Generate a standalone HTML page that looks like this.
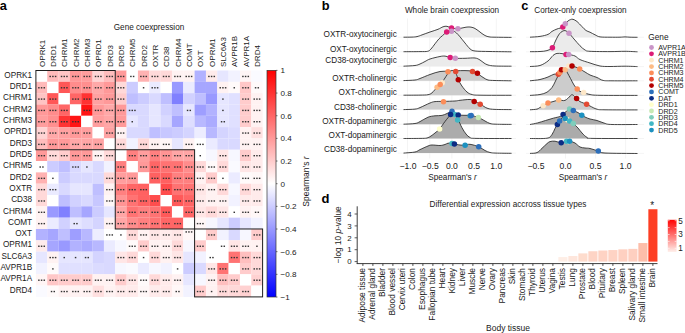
<!DOCTYPE html>
<html><head><meta charset="utf-8"><style>
html,body{margin:0;padding:0;background:#fff;width:685px;height:333px;overflow:hidden}
svg{display:block}
text{font-family:"Liberation Sans", sans-serif}
</style></head><body>
<svg width="685" height="333" viewBox="0 0 685 333">
<rect x="0" y="0" width="685" height="333" fill="#fff"/>
<text x="-0.2" y="9.8" font-size="12.8" font-weight="bold" fill="#000">a</text>
<text x="149" y="29.5" font-size="8.2" text-anchor="middle" fill="#1a1a1a">Gene coexpression</text>
<text x="44.67" y="66.9" font-size="8" fill="#1a1a1a" transform="rotate(-90 44.67 66.9)">OPRK1</text>
<text x="56" y="66.9" font-size="8" fill="#1a1a1a" transform="rotate(-90 56 66.9)">DRD1</text>
<text x="67.34" y="66.9" font-size="8" fill="#1a1a1a" transform="rotate(-90 67.34 66.9)">CHRM1</text>
<text x="78.67" y="66.9" font-size="8" fill="#1a1a1a" transform="rotate(-90 78.67 66.9)">CHRM2</text>
<text x="90.01" y="66.9" font-size="8" fill="#1a1a1a" transform="rotate(-90 90.01 66.9)">CHRM3</text>
<text x="101.34" y="66.9" font-size="8" fill="#1a1a1a" transform="rotate(-90 101.34 66.9)">OPRD1</text>
<text x="112.68" y="66.9" font-size="8" fill="#1a1a1a" transform="rotate(-90 112.68 66.9)">DRD3</text>
<text x="124.01" y="66.9" font-size="8" fill="#1a1a1a" transform="rotate(-90 124.01 66.9)">DRD5</text>
<text x="135.35" y="66.9" font-size="8" fill="#1a1a1a" transform="rotate(-90 135.35 66.9)">CHRM5</text>
<text x="146.68" y="66.9" font-size="8" fill="#1a1a1a" transform="rotate(-90 146.68 66.9)">DRD2</text>
<text x="158.02" y="66.9" font-size="8" fill="#1a1a1a" transform="rotate(-90 158.02 66.9)">OXTR</text>
<text x="169.35" y="66.9" font-size="8" fill="#1a1a1a" transform="rotate(-90 169.35 66.9)">CD38</text>
<text x="180.69" y="66.9" font-size="8" fill="#1a1a1a" transform="rotate(-90 180.69 66.9)">CHRM4</text>
<text x="192.02" y="66.9" font-size="8" fill="#1a1a1a" transform="rotate(-90 192.02 66.9)">COMT</text>
<text x="203.36" y="66.9" font-size="8" fill="#1a1a1a" transform="rotate(-90 203.36 66.9)">OXT</text>
<text x="214.69" y="66.9" font-size="8" fill="#1a1a1a" transform="rotate(-90 214.69 66.9)">OPRM1</text>
<text x="226.03" y="66.9" font-size="8" fill="#1a1a1a" transform="rotate(-90 226.03 66.9)">SLC6A3</text>
<text x="237.36" y="66.9" font-size="8" fill="#1a1a1a" transform="rotate(-90 237.36 66.9)">AVPR1B</text>
<text x="248.7" y="66.9" font-size="8" fill="#1a1a1a" transform="rotate(-90 248.7 66.9)">AVPR1A</text>
<text x="260.03" y="66.9" font-size="8" fill="#1a1a1a" transform="rotate(-90 260.03 66.9)">DRD4</text>
<text x="32.1" y="77.66" font-size="8.2" text-anchor="end" fill="#1a1a1a">OPRK1</text>
<text x="32.1" y="88.98" font-size="8.2" text-anchor="end" fill="#1a1a1a">DRD1</text>
<text x="32.1" y="100.3" font-size="8.2" text-anchor="end" fill="#1a1a1a">CHRM1</text>
<text x="32.1" y="111.62" font-size="8.2" text-anchor="end" fill="#1a1a1a">CHRM2</text>
<text x="32.1" y="122.94" font-size="8.2" text-anchor="end" fill="#1a1a1a">CHRM3</text>
<text x="32.1" y="134.26" font-size="8.2" text-anchor="end" fill="#1a1a1a">OPRD1</text>
<text x="32.1" y="145.58" font-size="8.2" text-anchor="end" fill="#1a1a1a">DRD3</text>
<text x="32.1" y="156.9" font-size="8.2" text-anchor="end" fill="#1a1a1a">DRD5</text>
<text x="32.1" y="168.22" font-size="8.2" text-anchor="end" fill="#1a1a1a">CHRM5</text>
<text x="32.1" y="179.54" font-size="8.2" text-anchor="end" fill="#1a1a1a">DRD2</text>
<text x="32.1" y="190.86" font-size="8.2" text-anchor="end" fill="#1a1a1a">OXTR</text>
<text x="32.1" y="202.18" font-size="8.2" text-anchor="end" fill="#1a1a1a">CD38</text>
<text x="32.1" y="213.5" font-size="8.2" text-anchor="end" fill="#1a1a1a">CHRM4</text>
<text x="32.1" y="224.82" font-size="8.2" text-anchor="end" fill="#1a1a1a">COMT</text>
<text x="32.1" y="236.14" font-size="8.2" text-anchor="end" fill="#1a1a1a">OXT</text>
<text x="32.1" y="247.46" font-size="8.2" text-anchor="end" fill="#1a1a1a">OPRM1</text>
<text x="32.1" y="258.78" font-size="8.2" text-anchor="end" fill="#1a1a1a">SLC6A3</text>
<text x="32.1" y="270.1" font-size="8.2" text-anchor="end" fill="#1a1a1a">AVPR1B</text>
<text x="32.1" y="281.42" font-size="8.2" text-anchor="end" fill="#1a1a1a">AVPR1A</text>
<text x="32.1" y="292.74" font-size="8.2" text-anchor="end" fill="#1a1a1a">DRD4</text>
<rect x="35.9" y="70.5" width="11.39" height="11.37" fill="#ffffff"/>
<rect x="47.23" y="70.5" width="11.39" height="11.37" fill="#ffbaba"/>
<rect x="58.57" y="70.5" width="11.39" height="11.37" fill="#ffc4c4"/>
<rect x="69.91" y="70.5" width="11.39" height="11.37" fill="#ff9999"/>
<rect x="81.24" y="70.5" width="11.39" height="11.37" fill="#ff9e9e"/>
<rect x="92.58" y="70.5" width="11.39" height="11.37" fill="#ffd4d4"/>
<rect x="103.91" y="70.5" width="11.39" height="11.37" fill="#ffbdbd"/>
<rect x="115.25" y="70.5" width="11.39" height="11.37" fill="#ff9999"/>
<rect x="126.58" y="70.5" width="11.39" height="11.37" fill="#ffffff"/>
<rect x="137.92" y="70.5" width="11.39" height="11.37" fill="#ffb2b2"/>
<rect x="149.25" y="70.5" width="11.39" height="11.37" fill="#ffd9d9"/>
<rect x="160.59" y="70.5" width="11.39" height="11.37" fill="#ffd9d9"/>
<rect x="171.92" y="70.5" width="11.39" height="11.37" fill="#fff2f2"/>
<rect x="183.26" y="70.5" width="11.39" height="11.37" fill="#fff2f2"/>
<rect x="194.59" y="70.5" width="11.39" height="11.37" fill="#b2b2ff"/>
<rect x="205.93" y="70.5" width="11.39" height="11.37" fill="#ffebeb"/>
<rect x="217.26" y="70.5" width="11.39" height="11.37" fill="#e6e6ff"/>
<rect x="228.6" y="70.5" width="11.39" height="11.37" fill="#f2f2ff"/>
<rect x="239.93" y="70.5" width="11.39" height="11.37" fill="#fff5f5"/>
<rect x="251.27" y="70.5" width="11.39" height="11.37" fill="#fafaff"/>
<rect x="35.9" y="81.82" width="11.39" height="11.37" fill="#ffbaba"/>
<rect x="47.23" y="81.82" width="11.39" height="11.37" fill="#ffffff"/>
<rect x="58.57" y="81.82" width="11.39" height="11.37" fill="#ff5757"/>
<rect x="69.91" y="81.82" width="11.39" height="11.37" fill="#ff8c8c"/>
<rect x="81.24" y="81.82" width="11.39" height="11.37" fill="#ff8f8f"/>
<rect x="92.58" y="81.82" width="11.39" height="11.37" fill="#ffa8a8"/>
<rect x="103.91" y="81.82" width="11.39" height="11.37" fill="#ff9999"/>
<rect x="115.25" y="81.82" width="11.39" height="11.37" fill="#ffd9d9"/>
<rect x="126.58" y="81.82" width="11.39" height="11.37" fill="#ccccff"/>
<rect x="137.92" y="81.82" width="11.39" height="11.37" fill="#ffffff"/>
<rect x="149.25" y="81.82" width="11.39" height="11.37" fill="#ebebff"/>
<rect x="160.59" y="81.82" width="11.39" height="11.37" fill="#ffffff"/>
<rect x="171.92" y="81.82" width="11.39" height="11.37" fill="#9999ff"/>
<rect x="183.26" y="81.82" width="11.39" height="11.37" fill="#ebebff"/>
<rect x="194.59" y="81.82" width="11.39" height="11.37" fill="#a6a6ff"/>
<rect x="205.93" y="81.82" width="11.39" height="11.37" fill="#a6a6ff"/>
<rect x="217.26" y="81.82" width="11.39" height="11.37" fill="#fff2f2"/>
<rect x="228.6" y="81.82" width="11.39" height="11.37" fill="#fffafa"/>
<rect x="239.93" y="81.82" width="11.39" height="11.37" fill="#ffc7c7"/>
<rect x="251.27" y="81.82" width="11.39" height="11.37" fill="#fffafa"/>
<rect x="35.9" y="93.14" width="11.39" height="11.37" fill="#ffc4c4"/>
<rect x="47.23" y="93.14" width="11.39" height="11.37" fill="#ff5757"/>
<rect x="58.57" y="93.14" width="11.39" height="11.37" fill="#ffffff"/>
<rect x="69.91" y="93.14" width="11.39" height="11.37" fill="#ff6666"/>
<rect x="81.24" y="93.14" width="11.39" height="11.37" fill="#ff3333"/>
<rect x="92.58" y="93.14" width="11.39" height="11.37" fill="#ffa1a1"/>
<rect x="103.91" y="93.14" width="11.39" height="11.37" fill="#ff9999"/>
<rect x="115.25" y="93.14" width="11.39" height="11.37" fill="#ffcccc"/>
<rect x="126.58" y="93.14" width="11.39" height="11.37" fill="#bfbfff"/>
<rect x="137.92" y="93.14" width="11.39" height="11.37" fill="#ccccff"/>
<rect x="149.25" y="93.14" width="11.39" height="11.37" fill="#d9d9ff"/>
<rect x="160.59" y="93.14" width="11.39" height="11.37" fill="#bfbfff"/>
<rect x="171.92" y="93.14" width="11.39" height="11.37" fill="#8080ff"/>
<rect x="183.26" y="93.14" width="11.39" height="11.37" fill="#d1d1ff"/>
<rect x="194.59" y="93.14" width="11.39" height="11.37" fill="#bfbfff"/>
<rect x="205.93" y="93.14" width="11.39" height="11.37" fill="#9999ff"/>
<rect x="217.26" y="93.14" width="11.39" height="11.37" fill="#e6e6ff"/>
<rect x="228.6" y="93.14" width="11.39" height="11.37" fill="#e0e0ff"/>
<rect x="239.93" y="93.14" width="11.39" height="11.37" fill="#ffcccc"/>
<rect x="251.27" y="93.14" width="11.39" height="11.37" fill="#fff2f2"/>
<rect x="35.9" y="104.46" width="11.39" height="11.37" fill="#ff9999"/>
<rect x="47.23" y="104.46" width="11.39" height="11.37" fill="#ff8c8c"/>
<rect x="58.57" y="104.46" width="11.39" height="11.37" fill="#ff6666"/>
<rect x="69.91" y="104.46" width="11.39" height="11.37" fill="#ffffff"/>
<rect x="81.24" y="104.46" width="11.39" height="11.37" fill="#ff1414"/>
<rect x="92.58" y="104.46" width="11.39" height="11.37" fill="#ff9999"/>
<rect x="103.91" y="104.46" width="11.39" height="11.37" fill="#ffa8a8"/>
<rect x="115.25" y="104.46" width="11.39" height="11.37" fill="#ff9999"/>
<rect x="126.58" y="104.46" width="11.39" height="11.37" fill="#d9d9ff"/>
<rect x="137.92" y="104.46" width="11.39" height="11.37" fill="#d9d9ff"/>
<rect x="149.25" y="104.46" width="11.39" height="11.37" fill="#e6e6ff"/>
<rect x="160.59" y="104.46" width="11.39" height="11.37" fill="#d1d1ff"/>
<rect x="171.92" y="104.46" width="11.39" height="11.37" fill="#bfbfff"/>
<rect x="183.26" y="104.46" width="11.39" height="11.37" fill="#e6e6ff"/>
<rect x="194.59" y="104.46" width="11.39" height="11.37" fill="#9e9eff"/>
<rect x="205.93" y="104.46" width="11.39" height="11.37" fill="#b2b2ff"/>
<rect x="217.26" y="104.46" width="11.39" height="11.37" fill="#e6e6ff"/>
<rect x="228.6" y="104.46" width="11.39" height="11.37" fill="#e0e0ff"/>
<rect x="239.93" y="104.46" width="11.39" height="11.37" fill="#ffcccc"/>
<rect x="251.27" y="104.46" width="11.39" height="11.37" fill="#fff2f2"/>
<rect x="35.9" y="115.78" width="11.39" height="11.37" fill="#ff9e9e"/>
<rect x="47.23" y="115.78" width="11.39" height="11.37" fill="#ff8f8f"/>
<rect x="58.57" y="115.78" width="11.39" height="11.37" fill="#ff3333"/>
<rect x="69.91" y="115.78" width="11.39" height="11.37" fill="#ff1414"/>
<rect x="81.24" y="115.78" width="11.39" height="11.37" fill="#ffffff"/>
<rect x="92.58" y="115.78" width="11.39" height="11.37" fill="#ff9e9e"/>
<rect x="103.91" y="115.78" width="11.39" height="11.37" fill="#ffa6a6"/>
<rect x="115.25" y="115.78" width="11.39" height="11.37" fill="#ff9999"/>
<rect x="126.58" y="115.78" width="11.39" height="11.37" fill="#e6e6ff"/>
<rect x="137.92" y="115.78" width="11.39" height="11.37" fill="#d9d9ff"/>
<rect x="149.25" y="115.78" width="11.39" height="11.37" fill="#e6e6ff"/>
<rect x="160.59" y="115.78" width="11.39" height="11.37" fill="#d9d9ff"/>
<rect x="171.92" y="115.78" width="11.39" height="11.37" fill="#a6a6ff"/>
<rect x="183.26" y="115.78" width="11.39" height="11.37" fill="#dedeff"/>
<rect x="194.59" y="115.78" width="11.39" height="11.37" fill="#b8b8ff"/>
<rect x="205.93" y="115.78" width="11.39" height="11.37" fill="#ababff"/>
<rect x="217.26" y="115.78" width="11.39" height="11.37" fill="#e6e6ff"/>
<rect x="228.6" y="115.78" width="11.39" height="11.37" fill="#e0e0ff"/>
<rect x="239.93" y="115.78" width="11.39" height="11.37" fill="#ffcccc"/>
<rect x="251.27" y="115.78" width="11.39" height="11.37" fill="#fff2f2"/>
<rect x="35.9" y="127.1" width="11.39" height="11.37" fill="#ffd4d4"/>
<rect x="47.23" y="127.1" width="11.39" height="11.37" fill="#ffa8a8"/>
<rect x="58.57" y="127.1" width="11.39" height="11.37" fill="#ffa1a1"/>
<rect x="69.91" y="127.1" width="11.39" height="11.37" fill="#ff9999"/>
<rect x="81.24" y="127.1" width="11.39" height="11.37" fill="#ff9e9e"/>
<rect x="92.58" y="127.1" width="11.39" height="11.37" fill="#ffffff"/>
<rect x="103.91" y="127.1" width="11.39" height="11.37" fill="#ffa3a3"/>
<rect x="115.25" y="127.1" width="11.39" height="11.37" fill="#fff2f2"/>
<rect x="126.58" y="127.1" width="11.39" height="11.37" fill="#d9d9ff"/>
<rect x="137.92" y="127.1" width="11.39" height="11.37" fill="#d9d9ff"/>
<rect x="149.25" y="127.1" width="11.39" height="11.37" fill="#bfbfff"/>
<rect x="160.59" y="127.1" width="11.39" height="11.37" fill="#c7c7ff"/>
<rect x="171.92" y="127.1" width="11.39" height="11.37" fill="#ccccff"/>
<rect x="183.26" y="127.1" width="11.39" height="11.37" fill="#d4d4ff"/>
<rect x="194.59" y="127.1" width="11.39" height="11.37" fill="#ededff"/>
<rect x="205.93" y="127.1" width="11.39" height="11.37" fill="#b8b8ff"/>
<rect x="217.26" y="127.1" width="11.39" height="11.37" fill="#d4d4ff"/>
<rect x="228.6" y="127.1" width="11.39" height="11.37" fill="#dbdbff"/>
<rect x="239.93" y="127.1" width="11.39" height="11.37" fill="#fff2f2"/>
<rect x="251.27" y="127.1" width="11.39" height="11.37" fill="#ffe0e0"/>
<rect x="35.9" y="138.42" width="11.39" height="11.37" fill="#ffbdbd"/>
<rect x="47.23" y="138.42" width="11.39" height="11.37" fill="#ff9999"/>
<rect x="58.57" y="138.42" width="11.39" height="11.37" fill="#ff9999"/>
<rect x="69.91" y="138.42" width="11.39" height="11.37" fill="#ffa8a8"/>
<rect x="81.24" y="138.42" width="11.39" height="11.37" fill="#ffa6a6"/>
<rect x="92.58" y="138.42" width="11.39" height="11.37" fill="#ffa3a3"/>
<rect x="103.91" y="138.42" width="11.39" height="11.37" fill="#ffffff"/>
<rect x="115.25" y="138.42" width="11.39" height="11.37" fill="#ffd9d9"/>
<rect x="126.58" y="138.42" width="11.39" height="11.37" fill="#f2f2ff"/>
<rect x="137.92" y="138.42" width="11.39" height="11.37" fill="#ffd9d9"/>
<rect x="149.25" y="138.42" width="11.39" height="11.37" fill="#fff2f2"/>
<rect x="160.59" y="138.42" width="11.39" height="11.37" fill="#fff7f7"/>
<rect x="171.92" y="138.42" width="11.39" height="11.37" fill="#e6e6ff"/>
<rect x="183.26" y="138.42" width="11.39" height="11.37" fill="#fff2f2"/>
<rect x="194.59" y="138.42" width="11.39" height="11.37" fill="#ffffff"/>
<rect x="205.93" y="138.42" width="11.39" height="11.37" fill="#ebebff"/>
<rect x="217.26" y="138.42" width="11.39" height="11.37" fill="#d9d9ff"/>
<rect x="228.6" y="138.42" width="11.39" height="11.37" fill="#d9d9ff"/>
<rect x="239.93" y="138.42" width="11.39" height="11.37" fill="#fff2f2"/>
<rect x="251.27" y="138.42" width="11.39" height="11.37" fill="#fff2f2"/>
<rect x="35.9" y="149.74" width="11.39" height="11.37" fill="#ff9999"/>
<rect x="47.23" y="149.74" width="11.39" height="11.37" fill="#ffd9d9"/>
<rect x="58.57" y="149.74" width="11.39" height="11.37" fill="#ffcccc"/>
<rect x="69.91" y="149.74" width="11.39" height="11.37" fill="#ff9999"/>
<rect x="81.24" y="149.74" width="11.39" height="11.37" fill="#ff9999"/>
<rect x="92.58" y="149.74" width="11.39" height="11.37" fill="#fff2f2"/>
<rect x="103.91" y="149.74" width="11.39" height="11.37" fill="#ffd9d9"/>
<rect x="115.25" y="149.74" width="11.39" height="11.37" fill="#ffffff"/>
<rect x="126.58" y="149.74" width="11.39" height="11.37" fill="#ff8080"/>
<rect x="137.92" y="149.74" width="11.39" height="11.37" fill="#ff9e9e"/>
<rect x="149.25" y="149.74" width="11.39" height="11.37" fill="#ff8080"/>
<rect x="160.59" y="149.74" width="11.39" height="11.37" fill="#ff9494"/>
<rect x="171.92" y="149.74" width="11.39" height="11.37" fill="#ffa6a6"/>
<rect x="183.26" y="149.74" width="11.39" height="11.37" fill="#ffa6a6"/>
<rect x="194.59" y="149.74" width="11.39" height="11.37" fill="#ffffff"/>
<rect x="205.93" y="149.74" width="11.39" height="11.37" fill="#f7f7ff"/>
<rect x="217.26" y="149.74" width="11.39" height="11.37" fill="#ffe6e6"/>
<rect x="228.6" y="149.74" width="11.39" height="11.37" fill="#f7f7ff"/>
<rect x="239.93" y="149.74" width="11.39" height="11.37" fill="#ffcccc"/>
<rect x="251.27" y="149.74" width="11.39" height="11.37" fill="#ffebeb"/>
<rect x="35.9" y="161.06" width="11.39" height="11.37" fill="#ffffff"/>
<rect x="47.23" y="161.06" width="11.39" height="11.37" fill="#ccccff"/>
<rect x="58.57" y="161.06" width="11.39" height="11.37" fill="#bfbfff"/>
<rect x="69.91" y="161.06" width="11.39" height="11.37" fill="#d9d9ff"/>
<rect x="81.24" y="161.06" width="11.39" height="11.37" fill="#e6e6ff"/>
<rect x="92.58" y="161.06" width="11.39" height="11.37" fill="#d9d9ff"/>
<rect x="103.91" y="161.06" width="11.39" height="11.37" fill="#f2f2ff"/>
<rect x="115.25" y="161.06" width="11.39" height="11.37" fill="#ff8080"/>
<rect x="126.58" y="161.06" width="11.39" height="11.37" fill="#ffffff"/>
<rect x="137.92" y="161.06" width="11.39" height="11.37" fill="#ff9999"/>
<rect x="149.25" y="161.06" width="11.39" height="11.37" fill="#ff6666"/>
<rect x="160.59" y="161.06" width="11.39" height="11.37" fill="#ff7373"/>
<rect x="171.92" y="161.06" width="11.39" height="11.37" fill="#ff7373"/>
<rect x="183.26" y="161.06" width="11.39" height="11.37" fill="#ff8c8c"/>
<rect x="194.59" y="161.06" width="11.39" height="11.37" fill="#ffd9d9"/>
<rect x="205.93" y="161.06" width="11.39" height="11.37" fill="#fffafa"/>
<rect x="217.26" y="161.06" width="11.39" height="11.37" fill="#ffd9d9"/>
<rect x="228.6" y="161.06" width="11.39" height="11.37" fill="#fafaff"/>
<rect x="239.93" y="161.06" width="11.39" height="11.37" fill="#ffe6e6"/>
<rect x="251.27" y="161.06" width="11.39" height="11.37" fill="#ffebeb"/>
<rect x="35.9" y="172.38" width="11.39" height="11.37" fill="#ffb2b2"/>
<rect x="47.23" y="172.38" width="11.39" height="11.37" fill="#ffffff"/>
<rect x="58.57" y="172.38" width="11.39" height="11.37" fill="#ccccff"/>
<rect x="69.91" y="172.38" width="11.39" height="11.37" fill="#d9d9ff"/>
<rect x="81.24" y="172.38" width="11.39" height="11.37" fill="#d9d9ff"/>
<rect x="92.58" y="172.38" width="11.39" height="11.37" fill="#d9d9ff"/>
<rect x="103.91" y="172.38" width="11.39" height="11.37" fill="#ffd9d9"/>
<rect x="115.25" y="172.38" width="11.39" height="11.37" fill="#ff9e9e"/>
<rect x="126.58" y="172.38" width="11.39" height="11.37" fill="#ff9999"/>
<rect x="137.92" y="172.38" width="11.39" height="11.37" fill="#ffffff"/>
<rect x="149.25" y="172.38" width="11.39" height="11.37" fill="#ff6161"/>
<rect x="160.59" y="172.38" width="11.39" height="11.37" fill="#ff6161"/>
<rect x="171.92" y="172.38" width="11.39" height="11.37" fill="#ff8080"/>
<rect x="183.26" y="172.38" width="11.39" height="11.37" fill="#ff8080"/>
<rect x="194.59" y="172.38" width="11.39" height="11.37" fill="#fff2f2"/>
<rect x="205.93" y="172.38" width="11.39" height="11.37" fill="#ffcccc"/>
<rect x="217.26" y="172.38" width="11.39" height="11.37" fill="#ffffff"/>
<rect x="228.6" y="172.38" width="11.39" height="11.37" fill="#ebebff"/>
<rect x="239.93" y="172.38" width="11.39" height="11.37" fill="#fffafa"/>
<rect x="251.27" y="172.38" width="11.39" height="11.37" fill="#fff7f7"/>
<rect x="35.9" y="183.7" width="11.39" height="11.37" fill="#ffd9d9"/>
<rect x="47.23" y="183.7" width="11.39" height="11.37" fill="#ebebff"/>
<rect x="58.57" y="183.7" width="11.39" height="11.37" fill="#d9d9ff"/>
<rect x="69.91" y="183.7" width="11.39" height="11.37" fill="#e6e6ff"/>
<rect x="81.24" y="183.7" width="11.39" height="11.37" fill="#e6e6ff"/>
<rect x="92.58" y="183.7" width="11.39" height="11.37" fill="#bfbfff"/>
<rect x="103.91" y="183.7" width="11.39" height="11.37" fill="#fff2f2"/>
<rect x="115.25" y="183.7" width="11.39" height="11.37" fill="#ff8080"/>
<rect x="126.58" y="183.7" width="11.39" height="11.37" fill="#ff6666"/>
<rect x="137.92" y="183.7" width="11.39" height="11.37" fill="#ff6161"/>
<rect x="149.25" y="183.7" width="11.39" height="11.37" fill="#ffffff"/>
<rect x="160.59" y="183.7" width="11.39" height="11.37" fill="#ff4d4d"/>
<rect x="171.92" y="183.7" width="11.39" height="11.37" fill="#ff7373"/>
<rect x="183.26" y="183.7" width="11.39" height="11.37" fill="#ff7373"/>
<rect x="194.59" y="183.7" width="11.39" height="11.37" fill="#ffe6e6"/>
<rect x="205.93" y="183.7" width="11.39" height="11.37" fill="#fff2f2"/>
<rect x="217.26" y="183.7" width="11.39" height="11.37" fill="#ffd9d9"/>
<rect x="228.6" y="183.7" width="11.39" height="11.37" fill="#f7f7ff"/>
<rect x="239.93" y="183.7" width="11.39" height="11.37" fill="#ffd9d9"/>
<rect x="251.27" y="183.7" width="11.39" height="11.37" fill="#ffebeb"/>
<rect x="35.9" y="195.02" width="11.39" height="11.37" fill="#ffd9d9"/>
<rect x="47.23" y="195.02" width="11.39" height="11.37" fill="#ffffff"/>
<rect x="58.57" y="195.02" width="11.39" height="11.37" fill="#bfbfff"/>
<rect x="69.91" y="195.02" width="11.39" height="11.37" fill="#d1d1ff"/>
<rect x="81.24" y="195.02" width="11.39" height="11.37" fill="#d9d9ff"/>
<rect x="92.58" y="195.02" width="11.39" height="11.37" fill="#c7c7ff"/>
<rect x="103.91" y="195.02" width="11.39" height="11.37" fill="#fff7f7"/>
<rect x="115.25" y="195.02" width="11.39" height="11.37" fill="#ff9494"/>
<rect x="126.58" y="195.02" width="11.39" height="11.37" fill="#ff7373"/>
<rect x="137.92" y="195.02" width="11.39" height="11.37" fill="#ff6161"/>
<rect x="149.25" y="195.02" width="11.39" height="11.37" fill="#ff4d4d"/>
<rect x="160.59" y="195.02" width="11.39" height="11.37" fill="#ffffff"/>
<rect x="171.92" y="195.02" width="11.39" height="11.37" fill="#ff5959"/>
<rect x="183.26" y="195.02" width="11.39" height="11.37" fill="#ff6666"/>
<rect x="194.59" y="195.02" width="11.39" height="11.37" fill="#ffebeb"/>
<rect x="205.93" y="195.02" width="11.39" height="11.37" fill="#fff2f2"/>
<rect x="217.26" y="195.02" width="11.39" height="11.37" fill="#fff2f2"/>
<rect x="228.6" y="195.02" width="11.39" height="11.37" fill="#f2f2ff"/>
<rect x="239.93" y="195.02" width="11.39" height="11.37" fill="#ffebeb"/>
<rect x="251.27" y="195.02" width="11.39" height="11.37" fill="#ffebeb"/>
<rect x="35.9" y="206.34" width="11.39" height="11.37" fill="#fff2f2"/>
<rect x="47.23" y="206.34" width="11.39" height="11.37" fill="#9999ff"/>
<rect x="58.57" y="206.34" width="11.39" height="11.37" fill="#8080ff"/>
<rect x="69.91" y="206.34" width="11.39" height="11.37" fill="#bfbfff"/>
<rect x="81.24" y="206.34" width="11.39" height="11.37" fill="#a6a6ff"/>
<rect x="92.58" y="206.34" width="11.39" height="11.37" fill="#ccccff"/>
<rect x="103.91" y="206.34" width="11.39" height="11.37" fill="#e6e6ff"/>
<rect x="115.25" y="206.34" width="11.39" height="11.37" fill="#ffa6a6"/>
<rect x="126.58" y="206.34" width="11.39" height="11.37" fill="#ff7373"/>
<rect x="137.92" y="206.34" width="11.39" height="11.37" fill="#ff8080"/>
<rect x="149.25" y="206.34" width="11.39" height="11.37" fill="#ff7373"/>
<rect x="160.59" y="206.34" width="11.39" height="11.37" fill="#ff5959"/>
<rect x="171.92" y="206.34" width="11.39" height="11.37" fill="#ffffff"/>
<rect x="183.26" y="206.34" width="11.39" height="11.37" fill="#ff6666"/>
<rect x="194.59" y="206.34" width="11.39" height="11.37" fill="#ffe6e6"/>
<rect x="205.93" y="206.34" width="11.39" height="11.37" fill="#ffd9d9"/>
<rect x="217.26" y="206.34" width="11.39" height="11.37" fill="#ffe6e6"/>
<rect x="228.6" y="206.34" width="11.39" height="11.37" fill="#ffffff"/>
<rect x="239.93" y="206.34" width="11.39" height="11.37" fill="#fff2f2"/>
<rect x="251.27" y="206.34" width="11.39" height="11.37" fill="#fff7f7"/>
<rect x="35.9" y="217.66" width="11.39" height="11.37" fill="#fff2f2"/>
<rect x="47.23" y="217.66" width="11.39" height="11.37" fill="#ebebff"/>
<rect x="58.57" y="217.66" width="11.39" height="11.37" fill="#d1d1ff"/>
<rect x="69.91" y="217.66" width="11.39" height="11.37" fill="#e6e6ff"/>
<rect x="81.24" y="217.66" width="11.39" height="11.37" fill="#dedeff"/>
<rect x="92.58" y="217.66" width="11.39" height="11.37" fill="#d4d4ff"/>
<rect x="103.91" y="217.66" width="11.39" height="11.37" fill="#fff2f2"/>
<rect x="115.25" y="217.66" width="11.39" height="11.37" fill="#ffa6a6"/>
<rect x="126.58" y="217.66" width="11.39" height="11.37" fill="#ff8c8c"/>
<rect x="137.92" y="217.66" width="11.39" height="11.37" fill="#ff8080"/>
<rect x="149.25" y="217.66" width="11.39" height="11.37" fill="#ff7373"/>
<rect x="160.59" y="217.66" width="11.39" height="11.37" fill="#ff6666"/>
<rect x="171.92" y="217.66" width="11.39" height="11.37" fill="#ff6666"/>
<rect x="183.26" y="217.66" width="11.39" height="11.37" fill="#ffffff"/>
<rect x="194.59" y="217.66" width="11.39" height="11.37" fill="#fff7f7"/>
<rect x="205.93" y="217.66" width="11.39" height="11.37" fill="#f7f7ff"/>
<rect x="217.26" y="217.66" width="11.39" height="11.37" fill="#e6e6ff"/>
<rect x="228.6" y="217.66" width="11.39" height="11.37" fill="#ccccff"/>
<rect x="239.93" y="217.66" width="11.39" height="11.37" fill="#e6e6ff"/>
<rect x="251.27" y="217.66" width="11.39" height="11.37" fill="#f2f2ff"/>
<rect x="35.9" y="228.98" width="11.39" height="11.37" fill="#b2b2ff"/>
<rect x="47.23" y="228.98" width="11.39" height="11.37" fill="#a6a6ff"/>
<rect x="58.57" y="228.98" width="11.39" height="11.37" fill="#bfbfff"/>
<rect x="69.91" y="228.98" width="11.39" height="11.37" fill="#9e9eff"/>
<rect x="81.24" y="228.98" width="11.39" height="11.37" fill="#b8b8ff"/>
<rect x="92.58" y="228.98" width="11.39" height="11.37" fill="#ededff"/>
<rect x="103.91" y="228.98" width="11.39" height="11.37" fill="#ffffff"/>
<rect x="115.25" y="228.98" width="11.39" height="11.37" fill="#ffffff"/>
<rect x="126.58" y="228.98" width="11.39" height="11.37" fill="#ffd9d9"/>
<rect x="137.92" y="228.98" width="11.39" height="11.37" fill="#fff2f2"/>
<rect x="149.25" y="228.98" width="11.39" height="11.37" fill="#ffe6e6"/>
<rect x="160.59" y="228.98" width="11.39" height="11.37" fill="#ffebeb"/>
<rect x="171.92" y="228.98" width="11.39" height="11.37" fill="#ffe6e6"/>
<rect x="183.26" y="228.98" width="11.39" height="11.37" fill="#fff7f7"/>
<rect x="194.59" y="228.98" width="11.39" height="11.37" fill="#ffffff"/>
<rect x="205.93" y="228.98" width="11.39" height="11.37" fill="#ffcccc"/>
<rect x="217.26" y="228.98" width="11.39" height="11.37" fill="#f2f2ff"/>
<rect x="228.6" y="228.98" width="11.39" height="11.37" fill="#d9d9ff"/>
<rect x="239.93" y="228.98" width="11.39" height="11.37" fill="#f7f7ff"/>
<rect x="251.27" y="228.98" width="11.39" height="11.37" fill="#ffcccc"/>
<rect x="35.9" y="240.3" width="11.39" height="11.37" fill="#ffebeb"/>
<rect x="47.23" y="240.3" width="11.39" height="11.37" fill="#a6a6ff"/>
<rect x="58.57" y="240.3" width="11.39" height="11.37" fill="#9999ff"/>
<rect x="69.91" y="240.3" width="11.39" height="11.37" fill="#b2b2ff"/>
<rect x="81.24" y="240.3" width="11.39" height="11.37" fill="#ababff"/>
<rect x="92.58" y="240.3" width="11.39" height="11.37" fill="#b8b8ff"/>
<rect x="103.91" y="240.3" width="11.39" height="11.37" fill="#ebebff"/>
<rect x="115.25" y="240.3" width="11.39" height="11.37" fill="#f7f7ff"/>
<rect x="126.58" y="240.3" width="11.39" height="11.37" fill="#fffafa"/>
<rect x="137.92" y="240.3" width="11.39" height="11.37" fill="#ffcccc"/>
<rect x="149.25" y="240.3" width="11.39" height="11.37" fill="#fff2f2"/>
<rect x="160.59" y="240.3" width="11.39" height="11.37" fill="#fff2f2"/>
<rect x="171.92" y="240.3" width="11.39" height="11.37" fill="#ffd9d9"/>
<rect x="183.26" y="240.3" width="11.39" height="11.37" fill="#f7f7ff"/>
<rect x="194.59" y="240.3" width="11.39" height="11.37" fill="#ffcccc"/>
<rect x="205.93" y="240.3" width="11.39" height="11.37" fill="#ffffff"/>
<rect x="217.26" y="240.3" width="11.39" height="11.37" fill="#ffffff"/>
<rect x="228.6" y="240.3" width="11.39" height="11.37" fill="#ffe6e6"/>
<rect x="239.93" y="240.3" width="11.39" height="11.37" fill="#fff2f2"/>
<rect x="251.27" y="240.3" width="11.39" height="11.37" fill="#fff2f2"/>
<rect x="35.9" y="251.62" width="11.39" height="11.37" fill="#e6e6ff"/>
<rect x="47.23" y="251.62" width="11.39" height="11.37" fill="#fff2f2"/>
<rect x="58.57" y="251.62" width="11.39" height="11.37" fill="#e6e6ff"/>
<rect x="69.91" y="251.62" width="11.39" height="11.37" fill="#e6e6ff"/>
<rect x="81.24" y="251.62" width="11.39" height="11.37" fill="#e6e6ff"/>
<rect x="92.58" y="251.62" width="11.39" height="11.37" fill="#d4d4ff"/>
<rect x="103.91" y="251.62" width="11.39" height="11.37" fill="#d9d9ff"/>
<rect x="115.25" y="251.62" width="11.39" height="11.37" fill="#ffe6e6"/>
<rect x="126.58" y="251.62" width="11.39" height="11.37" fill="#ffd9d9"/>
<rect x="137.92" y="251.62" width="11.39" height="11.37" fill="#ffffff"/>
<rect x="149.25" y="251.62" width="11.39" height="11.37" fill="#ffd9d9"/>
<rect x="160.59" y="251.62" width="11.39" height="11.37" fill="#fff2f2"/>
<rect x="171.92" y="251.62" width="11.39" height="11.37" fill="#ffe6e6"/>
<rect x="183.26" y="251.62" width="11.39" height="11.37" fill="#e6e6ff"/>
<rect x="194.59" y="251.62" width="11.39" height="11.37" fill="#f2f2ff"/>
<rect x="205.93" y="251.62" width="11.39" height="11.37" fill="#ffffff"/>
<rect x="217.26" y="251.62" width="11.39" height="11.37" fill="#ffffff"/>
<rect x="228.6" y="251.62" width="11.39" height="11.37" fill="#ff7373"/>
<rect x="239.93" y="251.62" width="11.39" height="11.37" fill="#ffbfbf"/>
<rect x="251.27" y="251.62" width="11.39" height="11.37" fill="#ffd9d9"/>
<rect x="35.9" y="262.94" width="11.39" height="11.37" fill="#f2f2ff"/>
<rect x="47.23" y="262.94" width="11.39" height="11.37" fill="#fffafa"/>
<rect x="58.57" y="262.94" width="11.39" height="11.37" fill="#e0e0ff"/>
<rect x="69.91" y="262.94" width="11.39" height="11.37" fill="#e0e0ff"/>
<rect x="81.24" y="262.94" width="11.39" height="11.37" fill="#e0e0ff"/>
<rect x="92.58" y="262.94" width="11.39" height="11.37" fill="#dbdbff"/>
<rect x="103.91" y="262.94" width="11.39" height="11.37" fill="#d9d9ff"/>
<rect x="115.25" y="262.94" width="11.39" height="11.37" fill="#f7f7ff"/>
<rect x="126.58" y="262.94" width="11.39" height="11.37" fill="#fafaff"/>
<rect x="137.92" y="262.94" width="11.39" height="11.37" fill="#ebebff"/>
<rect x="149.25" y="262.94" width="11.39" height="11.37" fill="#f7f7ff"/>
<rect x="160.59" y="262.94" width="11.39" height="11.37" fill="#f2f2ff"/>
<rect x="171.92" y="262.94" width="11.39" height="11.37" fill="#ffffff"/>
<rect x="183.26" y="262.94" width="11.39" height="11.37" fill="#ccccff"/>
<rect x="194.59" y="262.94" width="11.39" height="11.37" fill="#d9d9ff"/>
<rect x="205.93" y="262.94" width="11.39" height="11.37" fill="#ffe6e6"/>
<rect x="217.26" y="262.94" width="11.39" height="11.37" fill="#ff7373"/>
<rect x="228.6" y="262.94" width="11.39" height="11.37" fill="#ffffff"/>
<rect x="239.93" y="262.94" width="11.39" height="11.37" fill="#ffcccc"/>
<rect x="251.27" y="262.94" width="11.39" height="11.37" fill="#ffd9d9"/>
<rect x="35.9" y="274.26" width="11.39" height="11.37" fill="#fff5f5"/>
<rect x="47.23" y="274.26" width="11.39" height="11.37" fill="#ffc7c7"/>
<rect x="58.57" y="274.26" width="11.39" height="11.37" fill="#ffcccc"/>
<rect x="69.91" y="274.26" width="11.39" height="11.37" fill="#ffcccc"/>
<rect x="81.24" y="274.26" width="11.39" height="11.37" fill="#ffcccc"/>
<rect x="92.58" y="274.26" width="11.39" height="11.37" fill="#fff2f2"/>
<rect x="103.91" y="274.26" width="11.39" height="11.37" fill="#fff2f2"/>
<rect x="115.25" y="274.26" width="11.39" height="11.37" fill="#ffcccc"/>
<rect x="126.58" y="274.26" width="11.39" height="11.37" fill="#ffe6e6"/>
<rect x="137.92" y="274.26" width="11.39" height="11.37" fill="#fffafa"/>
<rect x="149.25" y="274.26" width="11.39" height="11.37" fill="#ffd9d9"/>
<rect x="160.59" y="274.26" width="11.39" height="11.37" fill="#ffebeb"/>
<rect x="171.92" y="274.26" width="11.39" height="11.37" fill="#fff2f2"/>
<rect x="183.26" y="274.26" width="11.39" height="11.37" fill="#e6e6ff"/>
<rect x="194.59" y="274.26" width="11.39" height="11.37" fill="#f7f7ff"/>
<rect x="205.93" y="274.26" width="11.39" height="11.37" fill="#fff2f2"/>
<rect x="217.26" y="274.26" width="11.39" height="11.37" fill="#ffbfbf"/>
<rect x="228.6" y="274.26" width="11.39" height="11.37" fill="#ffcccc"/>
<rect x="239.93" y="274.26" width="11.39" height="11.37" fill="#ffffff"/>
<rect x="251.27" y="274.26" width="11.39" height="11.37" fill="#ffd1d1"/>
<rect x="35.9" y="285.58" width="11.39" height="11.37" fill="#fafaff"/>
<rect x="47.23" y="285.58" width="11.39" height="11.37" fill="#fffafa"/>
<rect x="58.57" y="285.58" width="11.39" height="11.37" fill="#fff2f2"/>
<rect x="69.91" y="285.58" width="11.39" height="11.37" fill="#fff2f2"/>
<rect x="81.24" y="285.58" width="11.39" height="11.37" fill="#fff2f2"/>
<rect x="92.58" y="285.58" width="11.39" height="11.37" fill="#ffe0e0"/>
<rect x="103.91" y="285.58" width="11.39" height="11.37" fill="#fff2f2"/>
<rect x="115.25" y="285.58" width="11.39" height="11.37" fill="#ffebeb"/>
<rect x="126.58" y="285.58" width="11.39" height="11.37" fill="#ffebeb"/>
<rect x="137.92" y="285.58" width="11.39" height="11.37" fill="#fff7f7"/>
<rect x="149.25" y="285.58" width="11.39" height="11.37" fill="#ffebeb"/>
<rect x="160.59" y="285.58" width="11.39" height="11.37" fill="#ffebeb"/>
<rect x="171.92" y="285.58" width="11.39" height="11.37" fill="#fff7f7"/>
<rect x="183.26" y="285.58" width="11.39" height="11.37" fill="#f2f2ff"/>
<rect x="194.59" y="285.58" width="11.39" height="11.37" fill="#ffcccc"/>
<rect x="205.93" y="285.58" width="11.39" height="11.37" fill="#fff2f2"/>
<rect x="217.26" y="285.58" width="11.39" height="11.37" fill="#ffd9d9"/>
<rect x="228.6" y="285.58" width="11.39" height="11.37" fill="#ffd9d9"/>
<rect x="239.93" y="285.58" width="11.39" height="11.37" fill="#ffd1d1"/>
<rect x="251.27" y="285.58" width="11.39" height="11.37" fill="#ffffff"/>
<rect x="49.45" y="75.76" width="1.5" height="1.4" fill="#333"/>
<rect x="52.15" y="75.76" width="1.5" height="1.4" fill="#333"/>
<rect x="54.85" y="75.76" width="1.5" height="1.4" fill="#333"/>
<rect x="60.79" y="75.76" width="1.5" height="1.4" fill="#333"/>
<rect x="63.49" y="75.76" width="1.5" height="1.4" fill="#333"/>
<rect x="66.19" y="75.76" width="1.5" height="1.4" fill="#333"/>
<rect x="72.12" y="75.76" width="1.5" height="1.4" fill="#333"/>
<rect x="74.82" y="75.76" width="1.5" height="1.4" fill="#333"/>
<rect x="77.52" y="75.76" width="1.5" height="1.4" fill="#333"/>
<rect x="83.46" y="75.76" width="1.5" height="1.4" fill="#333"/>
<rect x="86.16" y="75.76" width="1.5" height="1.4" fill="#333"/>
<rect x="88.86" y="75.76" width="1.5" height="1.4" fill="#333"/>
<rect x="94.79" y="75.76" width="1.5" height="1.4" fill="#333"/>
<rect x="97.49" y="75.76" width="1.5" height="1.4" fill="#333"/>
<rect x="100.19" y="75.76" width="1.5" height="1.4" fill="#333"/>
<rect x="106.13" y="75.76" width="1.5" height="1.4" fill="#333"/>
<rect x="108.83" y="75.76" width="1.5" height="1.4" fill="#333"/>
<rect x="111.53" y="75.76" width="1.5" height="1.4" fill="#333"/>
<rect x="117.46" y="75.76" width="1.5" height="1.4" fill="#333"/>
<rect x="120.16" y="75.76" width="1.5" height="1.4" fill="#333"/>
<rect x="122.86" y="75.76" width="1.5" height="1.4" fill="#333"/>
<rect x="130.15" y="75.76" width="1.5" height="1.4" fill="#333"/>
<rect x="132.85" y="75.76" width="1.5" height="1.4" fill="#333"/>
<rect x="140.13" y="75.76" width="1.5" height="1.4" fill="#333"/>
<rect x="142.83" y="75.76" width="1.5" height="1.4" fill="#333"/>
<rect x="145.53" y="75.76" width="1.5" height="1.4" fill="#333"/>
<rect x="151.47" y="75.76" width="1.5" height="1.4" fill="#333"/>
<rect x="154.17" y="75.76" width="1.5" height="1.4" fill="#333"/>
<rect x="156.87" y="75.76" width="1.5" height="1.4" fill="#333"/>
<rect x="162.8" y="75.76" width="1.5" height="1.4" fill="#333"/>
<rect x="165.5" y="75.76" width="1.5" height="1.4" fill="#333"/>
<rect x="168.2" y="75.76" width="1.5" height="1.4" fill="#333"/>
<rect x="174.14" y="75.76" width="1.5" height="1.4" fill="#333"/>
<rect x="176.84" y="75.76" width="1.5" height="1.4" fill="#333"/>
<rect x="179.54" y="75.76" width="1.5" height="1.4" fill="#333"/>
<rect x="185.47" y="75.76" width="1.5" height="1.4" fill="#333"/>
<rect x="188.17" y="75.76" width="1.5" height="1.4" fill="#333"/>
<rect x="190.87" y="75.76" width="1.5" height="1.4" fill="#333"/>
<rect x="208.14" y="75.76" width="1.5" height="1.4" fill="#333"/>
<rect x="210.84" y="75.76" width="1.5" height="1.4" fill="#333"/>
<rect x="213.54" y="75.76" width="1.5" height="1.4" fill="#333"/>
<rect x="242.15" y="75.76" width="1.5" height="1.4" fill="#333"/>
<rect x="244.85" y="75.76" width="1.5" height="1.4" fill="#333"/>
<rect x="247.55" y="75.76" width="1.5" height="1.4" fill="#333"/>
<rect x="38.12" y="87.08" width="1.5" height="1.4" fill="#333"/>
<rect x="40.82" y="87.08" width="1.5" height="1.4" fill="#333"/>
<rect x="43.52" y="87.08" width="1.5" height="1.4" fill="#333"/>
<rect x="60.79" y="87.08" width="1.5" height="1.4" fill="#333"/>
<rect x="63.49" y="87.08" width="1.5" height="1.4" fill="#333"/>
<rect x="66.19" y="87.08" width="1.5" height="1.4" fill="#333"/>
<rect x="72.12" y="87.08" width="1.5" height="1.4" fill="#333"/>
<rect x="74.82" y="87.08" width="1.5" height="1.4" fill="#333"/>
<rect x="77.52" y="87.08" width="1.5" height="1.4" fill="#333"/>
<rect x="83.46" y="87.08" width="1.5" height="1.4" fill="#333"/>
<rect x="86.16" y="87.08" width="1.5" height="1.4" fill="#333"/>
<rect x="88.86" y="87.08" width="1.5" height="1.4" fill="#333"/>
<rect x="94.79" y="87.08" width="1.5" height="1.4" fill="#333"/>
<rect x="97.49" y="87.08" width="1.5" height="1.4" fill="#333"/>
<rect x="100.19" y="87.08" width="1.5" height="1.4" fill="#333"/>
<rect x="106.13" y="87.08" width="1.5" height="1.4" fill="#333"/>
<rect x="108.83" y="87.08" width="1.5" height="1.4" fill="#333"/>
<rect x="111.53" y="87.08" width="1.5" height="1.4" fill="#333"/>
<rect x="117.46" y="87.08" width="1.5" height="1.4" fill="#333"/>
<rect x="120.16" y="87.08" width="1.5" height="1.4" fill="#333"/>
<rect x="122.86" y="87.08" width="1.5" height="1.4" fill="#333"/>
<rect x="142.83" y="87.08" width="1.5" height="1.4" fill="#333"/>
<rect x="151.47" y="87.08" width="1.5" height="1.4" fill="#333"/>
<rect x="154.17" y="87.08" width="1.5" height="1.4" fill="#333"/>
<rect x="156.87" y="87.08" width="1.5" height="1.4" fill="#333"/>
<rect x="219.48" y="87.08" width="1.5" height="1.4" fill="#333"/>
<rect x="222.18" y="87.08" width="1.5" height="1.4" fill="#333"/>
<rect x="224.88" y="87.08" width="1.5" height="1.4" fill="#333"/>
<rect x="233.51" y="87.08" width="1.5" height="1.4" fill="#333"/>
<rect x="242.15" y="87.08" width="1.5" height="1.4" fill="#333"/>
<rect x="244.85" y="87.08" width="1.5" height="1.4" fill="#333"/>
<rect x="247.55" y="87.08" width="1.5" height="1.4" fill="#333"/>
<rect x="254.83" y="87.08" width="1.5" height="1.4" fill="#333"/>
<rect x="257.53" y="87.08" width="1.5" height="1.4" fill="#333"/>
<rect x="38.12" y="98.4" width="1.5" height="1.4" fill="#333"/>
<rect x="40.82" y="98.4" width="1.5" height="1.4" fill="#333"/>
<rect x="43.52" y="98.4" width="1.5" height="1.4" fill="#333"/>
<rect x="49.45" y="98.4" width="1.5" height="1.4" fill="#333"/>
<rect x="52.15" y="98.4" width="1.5" height="1.4" fill="#333"/>
<rect x="54.85" y="98.4" width="1.5" height="1.4" fill="#333"/>
<rect x="72.12" y="98.4" width="1.5" height="1.4" fill="#333"/>
<rect x="74.82" y="98.4" width="1.5" height="1.4" fill="#333"/>
<rect x="77.52" y="98.4" width="1.5" height="1.4" fill="#333"/>
<rect x="83.46" y="98.4" width="1.5" height="1.4" fill="#333"/>
<rect x="86.16" y="98.4" width="1.5" height="1.4" fill="#333"/>
<rect x="88.86" y="98.4" width="1.5" height="1.4" fill="#333"/>
<rect x="94.79" y="98.4" width="1.5" height="1.4" fill="#333"/>
<rect x="97.49" y="98.4" width="1.5" height="1.4" fill="#333"/>
<rect x="100.19" y="98.4" width="1.5" height="1.4" fill="#333"/>
<rect x="106.13" y="98.4" width="1.5" height="1.4" fill="#333"/>
<rect x="108.83" y="98.4" width="1.5" height="1.4" fill="#333"/>
<rect x="111.53" y="98.4" width="1.5" height="1.4" fill="#333"/>
<rect x="117.46" y="98.4" width="1.5" height="1.4" fill="#333"/>
<rect x="120.16" y="98.4" width="1.5" height="1.4" fill="#333"/>
<rect x="122.86" y="98.4" width="1.5" height="1.4" fill="#333"/>
<rect x="222.18" y="98.4" width="1.5" height="1.4" fill="#333"/>
<rect x="242.15" y="98.4" width="1.5" height="1.4" fill="#333"/>
<rect x="244.85" y="98.4" width="1.5" height="1.4" fill="#333"/>
<rect x="247.55" y="98.4" width="1.5" height="1.4" fill="#333"/>
<rect x="253.48" y="98.4" width="1.5" height="1.4" fill="#333"/>
<rect x="256.18" y="98.4" width="1.5" height="1.4" fill="#333"/>
<rect x="258.88" y="98.4" width="1.5" height="1.4" fill="#333"/>
<rect x="38.12" y="109.72" width="1.5" height="1.4" fill="#333"/>
<rect x="40.82" y="109.72" width="1.5" height="1.4" fill="#333"/>
<rect x="43.52" y="109.72" width="1.5" height="1.4" fill="#333"/>
<rect x="49.45" y="109.72" width="1.5" height="1.4" fill="#333"/>
<rect x="52.15" y="109.72" width="1.5" height="1.4" fill="#333"/>
<rect x="54.85" y="109.72" width="1.5" height="1.4" fill="#333"/>
<rect x="60.79" y="109.72" width="1.5" height="1.4" fill="#333"/>
<rect x="63.49" y="109.72" width="1.5" height="1.4" fill="#333"/>
<rect x="66.19" y="109.72" width="1.5" height="1.4" fill="#333"/>
<rect x="83.46" y="109.72" width="1.5" height="1.4" fill="#333"/>
<rect x="86.16" y="109.72" width="1.5" height="1.4" fill="#333"/>
<rect x="88.86" y="109.72" width="1.5" height="1.4" fill="#333"/>
<rect x="94.79" y="109.72" width="1.5" height="1.4" fill="#333"/>
<rect x="97.49" y="109.72" width="1.5" height="1.4" fill="#333"/>
<rect x="100.19" y="109.72" width="1.5" height="1.4" fill="#333"/>
<rect x="106.13" y="109.72" width="1.5" height="1.4" fill="#333"/>
<rect x="108.83" y="109.72" width="1.5" height="1.4" fill="#333"/>
<rect x="111.53" y="109.72" width="1.5" height="1.4" fill="#333"/>
<rect x="117.46" y="109.72" width="1.5" height="1.4" fill="#333"/>
<rect x="120.16" y="109.72" width="1.5" height="1.4" fill="#333"/>
<rect x="122.86" y="109.72" width="1.5" height="1.4" fill="#333"/>
<rect x="128.8" y="109.72" width="1.5" height="1.4" fill="#333"/>
<rect x="131.5" y="109.72" width="1.5" height="1.4" fill="#333"/>
<rect x="134.2" y="109.72" width="1.5" height="1.4" fill="#333"/>
<rect x="186.82" y="109.72" width="1.5" height="1.4" fill="#333"/>
<rect x="189.52" y="109.72" width="1.5" height="1.4" fill="#333"/>
<rect x="222.18" y="109.72" width="1.5" height="1.4" fill="#333"/>
<rect x="242.15" y="109.72" width="1.5" height="1.4" fill="#333"/>
<rect x="244.85" y="109.72" width="1.5" height="1.4" fill="#333"/>
<rect x="247.55" y="109.72" width="1.5" height="1.4" fill="#333"/>
<rect x="253.48" y="109.72" width="1.5" height="1.4" fill="#333"/>
<rect x="256.18" y="109.72" width="1.5" height="1.4" fill="#333"/>
<rect x="258.88" y="109.72" width="1.5" height="1.4" fill="#333"/>
<rect x="38.12" y="121.04" width="1.5" height="1.4" fill="#333"/>
<rect x="40.82" y="121.04" width="1.5" height="1.4" fill="#333"/>
<rect x="43.52" y="121.04" width="1.5" height="1.4" fill="#333"/>
<rect x="49.45" y="121.04" width="1.5" height="1.4" fill="#333"/>
<rect x="52.15" y="121.04" width="1.5" height="1.4" fill="#333"/>
<rect x="54.85" y="121.04" width="1.5" height="1.4" fill="#333"/>
<rect x="60.79" y="121.04" width="1.5" height="1.4" fill="#333"/>
<rect x="63.49" y="121.04" width="1.5" height="1.4" fill="#333"/>
<rect x="66.19" y="121.04" width="1.5" height="1.4" fill="#333"/>
<rect x="72.12" y="121.04" width="1.5" height="1.4" fill="#333"/>
<rect x="74.82" y="121.04" width="1.5" height="1.4" fill="#333"/>
<rect x="77.52" y="121.04" width="1.5" height="1.4" fill="#333"/>
<rect x="94.79" y="121.04" width="1.5" height="1.4" fill="#333"/>
<rect x="97.49" y="121.04" width="1.5" height="1.4" fill="#333"/>
<rect x="100.19" y="121.04" width="1.5" height="1.4" fill="#333"/>
<rect x="106.13" y="121.04" width="1.5" height="1.4" fill="#333"/>
<rect x="108.83" y="121.04" width="1.5" height="1.4" fill="#333"/>
<rect x="111.53" y="121.04" width="1.5" height="1.4" fill="#333"/>
<rect x="117.46" y="121.04" width="1.5" height="1.4" fill="#333"/>
<rect x="120.16" y="121.04" width="1.5" height="1.4" fill="#333"/>
<rect x="122.86" y="121.04" width="1.5" height="1.4" fill="#333"/>
<rect x="131.5" y="121.04" width="1.5" height="1.4" fill="#333"/>
<rect x="220.83" y="121.04" width="1.5" height="1.4" fill="#333"/>
<rect x="223.53" y="121.04" width="1.5" height="1.4" fill="#333"/>
<rect x="242.15" y="121.04" width="1.5" height="1.4" fill="#333"/>
<rect x="244.85" y="121.04" width="1.5" height="1.4" fill="#333"/>
<rect x="247.55" y="121.04" width="1.5" height="1.4" fill="#333"/>
<rect x="253.48" y="121.04" width="1.5" height="1.4" fill="#333"/>
<rect x="256.18" y="121.04" width="1.5" height="1.4" fill="#333"/>
<rect x="258.88" y="121.04" width="1.5" height="1.4" fill="#333"/>
<rect x="38.12" y="132.36" width="1.5" height="1.4" fill="#333"/>
<rect x="40.82" y="132.36" width="1.5" height="1.4" fill="#333"/>
<rect x="43.52" y="132.36" width="1.5" height="1.4" fill="#333"/>
<rect x="49.45" y="132.36" width="1.5" height="1.4" fill="#333"/>
<rect x="52.15" y="132.36" width="1.5" height="1.4" fill="#333"/>
<rect x="54.85" y="132.36" width="1.5" height="1.4" fill="#333"/>
<rect x="60.79" y="132.36" width="1.5" height="1.4" fill="#333"/>
<rect x="63.49" y="132.36" width="1.5" height="1.4" fill="#333"/>
<rect x="66.19" y="132.36" width="1.5" height="1.4" fill="#333"/>
<rect x="72.12" y="132.36" width="1.5" height="1.4" fill="#333"/>
<rect x="74.82" y="132.36" width="1.5" height="1.4" fill="#333"/>
<rect x="77.52" y="132.36" width="1.5" height="1.4" fill="#333"/>
<rect x="83.46" y="132.36" width="1.5" height="1.4" fill="#333"/>
<rect x="86.16" y="132.36" width="1.5" height="1.4" fill="#333"/>
<rect x="88.86" y="132.36" width="1.5" height="1.4" fill="#333"/>
<rect x="106.13" y="132.36" width="1.5" height="1.4" fill="#333"/>
<rect x="108.83" y="132.36" width="1.5" height="1.4" fill="#333"/>
<rect x="111.53" y="132.36" width="1.5" height="1.4" fill="#333"/>
<rect x="117.46" y="132.36" width="1.5" height="1.4" fill="#333"/>
<rect x="120.16" y="132.36" width="1.5" height="1.4" fill="#333"/>
<rect x="122.86" y="132.36" width="1.5" height="1.4" fill="#333"/>
<rect x="242.15" y="132.36" width="1.5" height="1.4" fill="#333"/>
<rect x="244.85" y="132.36" width="1.5" height="1.4" fill="#333"/>
<rect x="247.55" y="132.36" width="1.5" height="1.4" fill="#333"/>
<rect x="253.48" y="132.36" width="1.5" height="1.4" fill="#333"/>
<rect x="256.18" y="132.36" width="1.5" height="1.4" fill="#333"/>
<rect x="258.88" y="132.36" width="1.5" height="1.4" fill="#333"/>
<rect x="38.12" y="143.68" width="1.5" height="1.4" fill="#333"/>
<rect x="40.82" y="143.68" width="1.5" height="1.4" fill="#333"/>
<rect x="43.52" y="143.68" width="1.5" height="1.4" fill="#333"/>
<rect x="49.45" y="143.68" width="1.5" height="1.4" fill="#333"/>
<rect x="52.15" y="143.68" width="1.5" height="1.4" fill="#333"/>
<rect x="54.85" y="143.68" width="1.5" height="1.4" fill="#333"/>
<rect x="60.79" y="143.68" width="1.5" height="1.4" fill="#333"/>
<rect x="63.49" y="143.68" width="1.5" height="1.4" fill="#333"/>
<rect x="66.19" y="143.68" width="1.5" height="1.4" fill="#333"/>
<rect x="72.12" y="143.68" width="1.5" height="1.4" fill="#333"/>
<rect x="74.82" y="143.68" width="1.5" height="1.4" fill="#333"/>
<rect x="77.52" y="143.68" width="1.5" height="1.4" fill="#333"/>
<rect x="83.46" y="143.68" width="1.5" height="1.4" fill="#333"/>
<rect x="86.16" y="143.68" width="1.5" height="1.4" fill="#333"/>
<rect x="88.86" y="143.68" width="1.5" height="1.4" fill="#333"/>
<rect x="94.79" y="143.68" width="1.5" height="1.4" fill="#333"/>
<rect x="97.49" y="143.68" width="1.5" height="1.4" fill="#333"/>
<rect x="100.19" y="143.68" width="1.5" height="1.4" fill="#333"/>
<rect x="117.46" y="143.68" width="1.5" height="1.4" fill="#333"/>
<rect x="120.16" y="143.68" width="1.5" height="1.4" fill="#333"/>
<rect x="122.86" y="143.68" width="1.5" height="1.4" fill="#333"/>
<rect x="140.13" y="143.68" width="1.5" height="1.4" fill="#333"/>
<rect x="142.83" y="143.68" width="1.5" height="1.4" fill="#333"/>
<rect x="145.53" y="143.68" width="1.5" height="1.4" fill="#333"/>
<rect x="151.47" y="143.68" width="1.5" height="1.4" fill="#333"/>
<rect x="154.17" y="143.68" width="1.5" height="1.4" fill="#333"/>
<rect x="156.87" y="143.68" width="1.5" height="1.4" fill="#333"/>
<rect x="162.8" y="143.68" width="1.5" height="1.4" fill="#333"/>
<rect x="165.5" y="143.68" width="1.5" height="1.4" fill="#333"/>
<rect x="168.2" y="143.68" width="1.5" height="1.4" fill="#333"/>
<rect x="185.47" y="143.68" width="1.5" height="1.4" fill="#333"/>
<rect x="188.17" y="143.68" width="1.5" height="1.4" fill="#333"/>
<rect x="190.87" y="143.68" width="1.5" height="1.4" fill="#333"/>
<rect x="196.81" y="143.68" width="1.5" height="1.4" fill="#333"/>
<rect x="199.51" y="143.68" width="1.5" height="1.4" fill="#333"/>
<rect x="202.21" y="143.68" width="1.5" height="1.4" fill="#333"/>
<rect x="242.15" y="143.68" width="1.5" height="1.4" fill="#333"/>
<rect x="244.85" y="143.68" width="1.5" height="1.4" fill="#333"/>
<rect x="247.55" y="143.68" width="1.5" height="1.4" fill="#333"/>
<rect x="253.48" y="143.68" width="1.5" height="1.4" fill="#333"/>
<rect x="256.18" y="143.68" width="1.5" height="1.4" fill="#333"/>
<rect x="258.88" y="143.68" width="1.5" height="1.4" fill="#333"/>
<rect x="38.12" y="155" width="1.5" height="1.4" fill="#333"/>
<rect x="40.82" y="155" width="1.5" height="1.4" fill="#333"/>
<rect x="43.52" y="155" width="1.5" height="1.4" fill="#333"/>
<rect x="49.45" y="155" width="1.5" height="1.4" fill="#333"/>
<rect x="52.15" y="155" width="1.5" height="1.4" fill="#333"/>
<rect x="54.85" y="155" width="1.5" height="1.4" fill="#333"/>
<rect x="60.79" y="155" width="1.5" height="1.4" fill="#333"/>
<rect x="63.49" y="155" width="1.5" height="1.4" fill="#333"/>
<rect x="66.19" y="155" width="1.5" height="1.4" fill="#333"/>
<rect x="72.12" y="155" width="1.5" height="1.4" fill="#333"/>
<rect x="74.82" y="155" width="1.5" height="1.4" fill="#333"/>
<rect x="77.52" y="155" width="1.5" height="1.4" fill="#333"/>
<rect x="83.46" y="155" width="1.5" height="1.4" fill="#333"/>
<rect x="86.16" y="155" width="1.5" height="1.4" fill="#333"/>
<rect x="88.86" y="155" width="1.5" height="1.4" fill="#333"/>
<rect x="94.79" y="155" width="1.5" height="1.4" fill="#333"/>
<rect x="97.49" y="155" width="1.5" height="1.4" fill="#333"/>
<rect x="100.19" y="155" width="1.5" height="1.4" fill="#333"/>
<rect x="106.13" y="155" width="1.5" height="1.4" fill="#333"/>
<rect x="108.83" y="155" width="1.5" height="1.4" fill="#333"/>
<rect x="111.53" y="155" width="1.5" height="1.4" fill="#333"/>
<rect x="128.8" y="155" width="1.5" height="1.4" fill="#333"/>
<rect x="131.5" y="155" width="1.5" height="1.4" fill="#333"/>
<rect x="134.2" y="155" width="1.5" height="1.4" fill="#333"/>
<rect x="140.13" y="155" width="1.5" height="1.4" fill="#333"/>
<rect x="142.83" y="155" width="1.5" height="1.4" fill="#333"/>
<rect x="145.53" y="155" width="1.5" height="1.4" fill="#333"/>
<rect x="151.47" y="155" width="1.5" height="1.4" fill="#333"/>
<rect x="154.17" y="155" width="1.5" height="1.4" fill="#333"/>
<rect x="156.87" y="155" width="1.5" height="1.4" fill="#333"/>
<rect x="162.8" y="155" width="1.5" height="1.4" fill="#333"/>
<rect x="165.5" y="155" width="1.5" height="1.4" fill="#333"/>
<rect x="168.2" y="155" width="1.5" height="1.4" fill="#333"/>
<rect x="174.14" y="155" width="1.5" height="1.4" fill="#333"/>
<rect x="176.84" y="155" width="1.5" height="1.4" fill="#333"/>
<rect x="179.54" y="155" width="1.5" height="1.4" fill="#333"/>
<rect x="185.47" y="155" width="1.5" height="1.4" fill="#333"/>
<rect x="188.17" y="155" width="1.5" height="1.4" fill="#333"/>
<rect x="190.87" y="155" width="1.5" height="1.4" fill="#333"/>
<rect x="199.51" y="155" width="1.5" height="1.4" fill="#333"/>
<rect x="219.48" y="155" width="1.5" height="1.4" fill="#333"/>
<rect x="222.18" y="155" width="1.5" height="1.4" fill="#333"/>
<rect x="224.88" y="155" width="1.5" height="1.4" fill="#333"/>
<rect x="242.15" y="155" width="1.5" height="1.4" fill="#333"/>
<rect x="244.85" y="155" width="1.5" height="1.4" fill="#333"/>
<rect x="247.55" y="155" width="1.5" height="1.4" fill="#333"/>
<rect x="253.48" y="155" width="1.5" height="1.4" fill="#333"/>
<rect x="256.18" y="155" width="1.5" height="1.4" fill="#333"/>
<rect x="258.88" y="155" width="1.5" height="1.4" fill="#333"/>
<rect x="39.47" y="166.32" width="1.5" height="1.4" fill="#333"/>
<rect x="42.17" y="166.32" width="1.5" height="1.4" fill="#333"/>
<rect x="72.12" y="166.32" width="1.5" height="1.4" fill="#333"/>
<rect x="74.82" y="166.32" width="1.5" height="1.4" fill="#333"/>
<rect x="77.52" y="166.32" width="1.5" height="1.4" fill="#333"/>
<rect x="86.16" y="166.32" width="1.5" height="1.4" fill="#333"/>
<rect x="117.46" y="166.32" width="1.5" height="1.4" fill="#333"/>
<rect x="120.16" y="166.32" width="1.5" height="1.4" fill="#333"/>
<rect x="122.86" y="166.32" width="1.5" height="1.4" fill="#333"/>
<rect x="140.13" y="166.32" width="1.5" height="1.4" fill="#333"/>
<rect x="142.83" y="166.32" width="1.5" height="1.4" fill="#333"/>
<rect x="145.53" y="166.32" width="1.5" height="1.4" fill="#333"/>
<rect x="151.47" y="166.32" width="1.5" height="1.4" fill="#333"/>
<rect x="154.17" y="166.32" width="1.5" height="1.4" fill="#333"/>
<rect x="156.87" y="166.32" width="1.5" height="1.4" fill="#333"/>
<rect x="162.8" y="166.32" width="1.5" height="1.4" fill="#333"/>
<rect x="165.5" y="166.32" width="1.5" height="1.4" fill="#333"/>
<rect x="168.2" y="166.32" width="1.5" height="1.4" fill="#333"/>
<rect x="174.14" y="166.32" width="1.5" height="1.4" fill="#333"/>
<rect x="176.84" y="166.32" width="1.5" height="1.4" fill="#333"/>
<rect x="179.54" y="166.32" width="1.5" height="1.4" fill="#333"/>
<rect x="185.47" y="166.32" width="1.5" height="1.4" fill="#333"/>
<rect x="188.17" y="166.32" width="1.5" height="1.4" fill="#333"/>
<rect x="190.87" y="166.32" width="1.5" height="1.4" fill="#333"/>
<rect x="196.81" y="166.32" width="1.5" height="1.4" fill="#333"/>
<rect x="199.51" y="166.32" width="1.5" height="1.4" fill="#333"/>
<rect x="202.21" y="166.32" width="1.5" height="1.4" fill="#333"/>
<rect x="208.14" y="166.32" width="1.5" height="1.4" fill="#333"/>
<rect x="210.84" y="166.32" width="1.5" height="1.4" fill="#333"/>
<rect x="213.54" y="166.32" width="1.5" height="1.4" fill="#333"/>
<rect x="219.48" y="166.32" width="1.5" height="1.4" fill="#333"/>
<rect x="222.18" y="166.32" width="1.5" height="1.4" fill="#333"/>
<rect x="224.88" y="166.32" width="1.5" height="1.4" fill="#333"/>
<rect x="242.15" y="166.32" width="1.5" height="1.4" fill="#333"/>
<rect x="244.85" y="166.32" width="1.5" height="1.4" fill="#333"/>
<rect x="247.55" y="166.32" width="1.5" height="1.4" fill="#333"/>
<rect x="253.48" y="166.32" width="1.5" height="1.4" fill="#333"/>
<rect x="256.18" y="166.32" width="1.5" height="1.4" fill="#333"/>
<rect x="258.88" y="166.32" width="1.5" height="1.4" fill="#333"/>
<rect x="38.12" y="177.64" width="1.5" height="1.4" fill="#333"/>
<rect x="40.82" y="177.64" width="1.5" height="1.4" fill="#333"/>
<rect x="43.52" y="177.64" width="1.5" height="1.4" fill="#333"/>
<rect x="52.15" y="177.64" width="1.5" height="1.4" fill="#333"/>
<rect x="106.13" y="177.64" width="1.5" height="1.4" fill="#333"/>
<rect x="108.83" y="177.64" width="1.5" height="1.4" fill="#333"/>
<rect x="111.53" y="177.64" width="1.5" height="1.4" fill="#333"/>
<rect x="117.46" y="177.64" width="1.5" height="1.4" fill="#333"/>
<rect x="120.16" y="177.64" width="1.5" height="1.4" fill="#333"/>
<rect x="122.86" y="177.64" width="1.5" height="1.4" fill="#333"/>
<rect x="128.8" y="177.64" width="1.5" height="1.4" fill="#333"/>
<rect x="131.5" y="177.64" width="1.5" height="1.4" fill="#333"/>
<rect x="134.2" y="177.64" width="1.5" height="1.4" fill="#333"/>
<rect x="151.47" y="177.64" width="1.5" height="1.4" fill="#333"/>
<rect x="154.17" y="177.64" width="1.5" height="1.4" fill="#333"/>
<rect x="156.87" y="177.64" width="1.5" height="1.4" fill="#333"/>
<rect x="162.8" y="177.64" width="1.5" height="1.4" fill="#333"/>
<rect x="165.5" y="177.64" width="1.5" height="1.4" fill="#333"/>
<rect x="168.2" y="177.64" width="1.5" height="1.4" fill="#333"/>
<rect x="174.14" y="177.64" width="1.5" height="1.4" fill="#333"/>
<rect x="176.84" y="177.64" width="1.5" height="1.4" fill="#333"/>
<rect x="179.54" y="177.64" width="1.5" height="1.4" fill="#333"/>
<rect x="185.47" y="177.64" width="1.5" height="1.4" fill="#333"/>
<rect x="188.17" y="177.64" width="1.5" height="1.4" fill="#333"/>
<rect x="190.87" y="177.64" width="1.5" height="1.4" fill="#333"/>
<rect x="196.81" y="177.64" width="1.5" height="1.4" fill="#333"/>
<rect x="199.51" y="177.64" width="1.5" height="1.4" fill="#333"/>
<rect x="202.21" y="177.64" width="1.5" height="1.4" fill="#333"/>
<rect x="208.14" y="177.64" width="1.5" height="1.4" fill="#333"/>
<rect x="210.84" y="177.64" width="1.5" height="1.4" fill="#333"/>
<rect x="213.54" y="177.64" width="1.5" height="1.4" fill="#333"/>
<rect x="222.18" y="177.64" width="1.5" height="1.4" fill="#333"/>
<rect x="242.15" y="177.64" width="1.5" height="1.4" fill="#333"/>
<rect x="244.85" y="177.64" width="1.5" height="1.4" fill="#333"/>
<rect x="247.55" y="177.64" width="1.5" height="1.4" fill="#333"/>
<rect x="253.48" y="177.64" width="1.5" height="1.4" fill="#333"/>
<rect x="256.18" y="177.64" width="1.5" height="1.4" fill="#333"/>
<rect x="258.88" y="177.64" width="1.5" height="1.4" fill="#333"/>
<rect x="38.12" y="188.96" width="1.5" height="1.4" fill="#333"/>
<rect x="40.82" y="188.96" width="1.5" height="1.4" fill="#333"/>
<rect x="43.52" y="188.96" width="1.5" height="1.4" fill="#333"/>
<rect x="49.45" y="188.96" width="1.5" height="1.4" fill="#333"/>
<rect x="52.15" y="188.96" width="1.5" height="1.4" fill="#333"/>
<rect x="54.85" y="188.96" width="1.5" height="1.4" fill="#333"/>
<rect x="106.13" y="188.96" width="1.5" height="1.4" fill="#333"/>
<rect x="108.83" y="188.96" width="1.5" height="1.4" fill="#333"/>
<rect x="111.53" y="188.96" width="1.5" height="1.4" fill="#333"/>
<rect x="117.46" y="188.96" width="1.5" height="1.4" fill="#333"/>
<rect x="120.16" y="188.96" width="1.5" height="1.4" fill="#333"/>
<rect x="122.86" y="188.96" width="1.5" height="1.4" fill="#333"/>
<rect x="128.8" y="188.96" width="1.5" height="1.4" fill="#333"/>
<rect x="131.5" y="188.96" width="1.5" height="1.4" fill="#333"/>
<rect x="134.2" y="188.96" width="1.5" height="1.4" fill="#333"/>
<rect x="140.13" y="188.96" width="1.5" height="1.4" fill="#333"/>
<rect x="142.83" y="188.96" width="1.5" height="1.4" fill="#333"/>
<rect x="145.53" y="188.96" width="1.5" height="1.4" fill="#333"/>
<rect x="162.8" y="188.96" width="1.5" height="1.4" fill="#333"/>
<rect x="165.5" y="188.96" width="1.5" height="1.4" fill="#333"/>
<rect x="168.2" y="188.96" width="1.5" height="1.4" fill="#333"/>
<rect x="174.14" y="188.96" width="1.5" height="1.4" fill="#333"/>
<rect x="176.84" y="188.96" width="1.5" height="1.4" fill="#333"/>
<rect x="179.54" y="188.96" width="1.5" height="1.4" fill="#333"/>
<rect x="185.47" y="188.96" width="1.5" height="1.4" fill="#333"/>
<rect x="188.17" y="188.96" width="1.5" height="1.4" fill="#333"/>
<rect x="190.87" y="188.96" width="1.5" height="1.4" fill="#333"/>
<rect x="196.81" y="188.96" width="1.5" height="1.4" fill="#333"/>
<rect x="199.51" y="188.96" width="1.5" height="1.4" fill="#333"/>
<rect x="202.21" y="188.96" width="1.5" height="1.4" fill="#333"/>
<rect x="208.14" y="188.96" width="1.5" height="1.4" fill="#333"/>
<rect x="210.84" y="188.96" width="1.5" height="1.4" fill="#333"/>
<rect x="213.54" y="188.96" width="1.5" height="1.4" fill="#333"/>
<rect x="219.48" y="188.96" width="1.5" height="1.4" fill="#333"/>
<rect x="222.18" y="188.96" width="1.5" height="1.4" fill="#333"/>
<rect x="224.88" y="188.96" width="1.5" height="1.4" fill="#333"/>
<rect x="242.15" y="188.96" width="1.5" height="1.4" fill="#333"/>
<rect x="244.85" y="188.96" width="1.5" height="1.4" fill="#333"/>
<rect x="247.55" y="188.96" width="1.5" height="1.4" fill="#333"/>
<rect x="253.48" y="188.96" width="1.5" height="1.4" fill="#333"/>
<rect x="256.18" y="188.96" width="1.5" height="1.4" fill="#333"/>
<rect x="258.88" y="188.96" width="1.5" height="1.4" fill="#333"/>
<rect x="38.12" y="200.28" width="1.5" height="1.4" fill="#333"/>
<rect x="40.82" y="200.28" width="1.5" height="1.4" fill="#333"/>
<rect x="43.52" y="200.28" width="1.5" height="1.4" fill="#333"/>
<rect x="106.13" y="200.28" width="1.5" height="1.4" fill="#333"/>
<rect x="108.83" y="200.28" width="1.5" height="1.4" fill="#333"/>
<rect x="111.53" y="200.28" width="1.5" height="1.4" fill="#333"/>
<rect x="117.46" y="200.28" width="1.5" height="1.4" fill="#333"/>
<rect x="120.16" y="200.28" width="1.5" height="1.4" fill="#333"/>
<rect x="122.86" y="200.28" width="1.5" height="1.4" fill="#333"/>
<rect x="128.8" y="200.28" width="1.5" height="1.4" fill="#333"/>
<rect x="131.5" y="200.28" width="1.5" height="1.4" fill="#333"/>
<rect x="134.2" y="200.28" width="1.5" height="1.4" fill="#333"/>
<rect x="140.13" y="200.28" width="1.5" height="1.4" fill="#333"/>
<rect x="142.83" y="200.28" width="1.5" height="1.4" fill="#333"/>
<rect x="145.53" y="200.28" width="1.5" height="1.4" fill="#333"/>
<rect x="151.47" y="200.28" width="1.5" height="1.4" fill="#333"/>
<rect x="154.17" y="200.28" width="1.5" height="1.4" fill="#333"/>
<rect x="156.87" y="200.28" width="1.5" height="1.4" fill="#333"/>
<rect x="174.14" y="200.28" width="1.5" height="1.4" fill="#333"/>
<rect x="176.84" y="200.28" width="1.5" height="1.4" fill="#333"/>
<rect x="179.54" y="200.28" width="1.5" height="1.4" fill="#333"/>
<rect x="185.47" y="200.28" width="1.5" height="1.4" fill="#333"/>
<rect x="188.17" y="200.28" width="1.5" height="1.4" fill="#333"/>
<rect x="190.87" y="200.28" width="1.5" height="1.4" fill="#333"/>
<rect x="196.81" y="200.28" width="1.5" height="1.4" fill="#333"/>
<rect x="199.51" y="200.28" width="1.5" height="1.4" fill="#333"/>
<rect x="202.21" y="200.28" width="1.5" height="1.4" fill="#333"/>
<rect x="208.14" y="200.28" width="1.5" height="1.4" fill="#333"/>
<rect x="210.84" y="200.28" width="1.5" height="1.4" fill="#333"/>
<rect x="213.54" y="200.28" width="1.5" height="1.4" fill="#333"/>
<rect x="219.48" y="200.28" width="1.5" height="1.4" fill="#333"/>
<rect x="222.18" y="200.28" width="1.5" height="1.4" fill="#333"/>
<rect x="224.88" y="200.28" width="1.5" height="1.4" fill="#333"/>
<rect x="242.15" y="200.28" width="1.5" height="1.4" fill="#333"/>
<rect x="244.85" y="200.28" width="1.5" height="1.4" fill="#333"/>
<rect x="247.55" y="200.28" width="1.5" height="1.4" fill="#333"/>
<rect x="253.48" y="200.28" width="1.5" height="1.4" fill="#333"/>
<rect x="256.18" y="200.28" width="1.5" height="1.4" fill="#333"/>
<rect x="258.88" y="200.28" width="1.5" height="1.4" fill="#333"/>
<rect x="38.12" y="211.6" width="1.5" height="1.4" fill="#333"/>
<rect x="40.82" y="211.6" width="1.5" height="1.4" fill="#333"/>
<rect x="43.52" y="211.6" width="1.5" height="1.4" fill="#333"/>
<rect x="117.46" y="211.6" width="1.5" height="1.4" fill="#333"/>
<rect x="120.16" y="211.6" width="1.5" height="1.4" fill="#333"/>
<rect x="122.86" y="211.6" width="1.5" height="1.4" fill="#333"/>
<rect x="128.8" y="211.6" width="1.5" height="1.4" fill="#333"/>
<rect x="131.5" y="211.6" width="1.5" height="1.4" fill="#333"/>
<rect x="134.2" y="211.6" width="1.5" height="1.4" fill="#333"/>
<rect x="140.13" y="211.6" width="1.5" height="1.4" fill="#333"/>
<rect x="142.83" y="211.6" width="1.5" height="1.4" fill="#333"/>
<rect x="145.53" y="211.6" width="1.5" height="1.4" fill="#333"/>
<rect x="151.47" y="211.6" width="1.5" height="1.4" fill="#333"/>
<rect x="154.17" y="211.6" width="1.5" height="1.4" fill="#333"/>
<rect x="156.87" y="211.6" width="1.5" height="1.4" fill="#333"/>
<rect x="162.8" y="211.6" width="1.5" height="1.4" fill="#333"/>
<rect x="165.5" y="211.6" width="1.5" height="1.4" fill="#333"/>
<rect x="168.2" y="211.6" width="1.5" height="1.4" fill="#333"/>
<rect x="185.47" y="211.6" width="1.5" height="1.4" fill="#333"/>
<rect x="188.17" y="211.6" width="1.5" height="1.4" fill="#333"/>
<rect x="190.87" y="211.6" width="1.5" height="1.4" fill="#333"/>
<rect x="196.81" y="211.6" width="1.5" height="1.4" fill="#333"/>
<rect x="199.51" y="211.6" width="1.5" height="1.4" fill="#333"/>
<rect x="202.21" y="211.6" width="1.5" height="1.4" fill="#333"/>
<rect x="208.14" y="211.6" width="1.5" height="1.4" fill="#333"/>
<rect x="210.84" y="211.6" width="1.5" height="1.4" fill="#333"/>
<rect x="213.54" y="211.6" width="1.5" height="1.4" fill="#333"/>
<rect x="219.48" y="211.6" width="1.5" height="1.4" fill="#333"/>
<rect x="222.18" y="211.6" width="1.5" height="1.4" fill="#333"/>
<rect x="224.88" y="211.6" width="1.5" height="1.4" fill="#333"/>
<rect x="233.51" y="211.6" width="1.5" height="1.4" fill="#333"/>
<rect x="242.15" y="211.6" width="1.5" height="1.4" fill="#333"/>
<rect x="244.85" y="211.6" width="1.5" height="1.4" fill="#333"/>
<rect x="247.55" y="211.6" width="1.5" height="1.4" fill="#333"/>
<rect x="254.83" y="211.6" width="1.5" height="1.4" fill="#333"/>
<rect x="257.53" y="211.6" width="1.5" height="1.4" fill="#333"/>
<rect x="38.12" y="222.92" width="1.5" height="1.4" fill="#333"/>
<rect x="40.82" y="222.92" width="1.5" height="1.4" fill="#333"/>
<rect x="43.52" y="222.92" width="1.5" height="1.4" fill="#333"/>
<rect x="73.47" y="222.92" width="1.5" height="1.4" fill="#333"/>
<rect x="76.17" y="222.92" width="1.5" height="1.4" fill="#333"/>
<rect x="106.13" y="222.92" width="1.5" height="1.4" fill="#333"/>
<rect x="108.83" y="222.92" width="1.5" height="1.4" fill="#333"/>
<rect x="111.53" y="222.92" width="1.5" height="1.4" fill="#333"/>
<rect x="117.46" y="222.92" width="1.5" height="1.4" fill="#333"/>
<rect x="120.16" y="222.92" width="1.5" height="1.4" fill="#333"/>
<rect x="122.86" y="222.92" width="1.5" height="1.4" fill="#333"/>
<rect x="128.8" y="222.92" width="1.5" height="1.4" fill="#333"/>
<rect x="131.5" y="222.92" width="1.5" height="1.4" fill="#333"/>
<rect x="134.2" y="222.92" width="1.5" height="1.4" fill="#333"/>
<rect x="140.13" y="222.92" width="1.5" height="1.4" fill="#333"/>
<rect x="142.83" y="222.92" width="1.5" height="1.4" fill="#333"/>
<rect x="145.53" y="222.92" width="1.5" height="1.4" fill="#333"/>
<rect x="151.47" y="222.92" width="1.5" height="1.4" fill="#333"/>
<rect x="154.17" y="222.92" width="1.5" height="1.4" fill="#333"/>
<rect x="156.87" y="222.92" width="1.5" height="1.4" fill="#333"/>
<rect x="162.8" y="222.92" width="1.5" height="1.4" fill="#333"/>
<rect x="165.5" y="222.92" width="1.5" height="1.4" fill="#333"/>
<rect x="168.2" y="222.92" width="1.5" height="1.4" fill="#333"/>
<rect x="174.14" y="222.92" width="1.5" height="1.4" fill="#333"/>
<rect x="176.84" y="222.92" width="1.5" height="1.4" fill="#333"/>
<rect x="179.54" y="222.92" width="1.5" height="1.4" fill="#333"/>
<rect x="196.81" y="222.92" width="1.5" height="1.4" fill="#333"/>
<rect x="199.51" y="222.92" width="1.5" height="1.4" fill="#333"/>
<rect x="202.21" y="222.92" width="1.5" height="1.4" fill="#333"/>
<rect x="106.13" y="234.24" width="1.5" height="1.4" fill="#333"/>
<rect x="108.83" y="234.24" width="1.5" height="1.4" fill="#333"/>
<rect x="111.53" y="234.24" width="1.5" height="1.4" fill="#333"/>
<rect x="120.16" y="234.24" width="1.5" height="1.4" fill="#333"/>
<rect x="128.8" y="234.24" width="1.5" height="1.4" fill="#333"/>
<rect x="131.5" y="234.24" width="1.5" height="1.4" fill="#333"/>
<rect x="134.2" y="234.24" width="1.5" height="1.4" fill="#333"/>
<rect x="140.13" y="234.24" width="1.5" height="1.4" fill="#333"/>
<rect x="142.83" y="234.24" width="1.5" height="1.4" fill="#333"/>
<rect x="145.53" y="234.24" width="1.5" height="1.4" fill="#333"/>
<rect x="151.47" y="234.24" width="1.5" height="1.4" fill="#333"/>
<rect x="154.17" y="234.24" width="1.5" height="1.4" fill="#333"/>
<rect x="156.87" y="234.24" width="1.5" height="1.4" fill="#333"/>
<rect x="162.8" y="234.24" width="1.5" height="1.4" fill="#333"/>
<rect x="165.5" y="234.24" width="1.5" height="1.4" fill="#333"/>
<rect x="168.2" y="234.24" width="1.5" height="1.4" fill="#333"/>
<rect x="174.14" y="234.24" width="1.5" height="1.4" fill="#333"/>
<rect x="176.84" y="234.24" width="1.5" height="1.4" fill="#333"/>
<rect x="179.54" y="234.24" width="1.5" height="1.4" fill="#333"/>
<rect x="185.47" y="231.24" width="1.5" height="1.4" fill="#333"/>
<rect x="188.17" y="231.24" width="1.5" height="1.4" fill="#333"/>
<rect x="190.87" y="231.24" width="1.5" height="1.4" fill="#333"/>
<rect x="208.14" y="234.24" width="1.5" height="1.4" fill="#333"/>
<rect x="210.84" y="234.24" width="1.5" height="1.4" fill="#333"/>
<rect x="213.54" y="234.24" width="1.5" height="1.4" fill="#333"/>
<rect x="253.48" y="234.24" width="1.5" height="1.4" fill="#333"/>
<rect x="256.18" y="234.24" width="1.5" height="1.4" fill="#333"/>
<rect x="258.88" y="234.24" width="1.5" height="1.4" fill="#333"/>
<rect x="38.12" y="245.56" width="1.5" height="1.4" fill="#333"/>
<rect x="40.82" y="245.56" width="1.5" height="1.4" fill="#333"/>
<rect x="43.52" y="245.56" width="1.5" height="1.4" fill="#333"/>
<rect x="128.8" y="245.56" width="1.5" height="1.4" fill="#333"/>
<rect x="131.5" y="245.56" width="1.5" height="1.4" fill="#333"/>
<rect x="134.2" y="245.56" width="1.5" height="1.4" fill="#333"/>
<rect x="140.13" y="245.56" width="1.5" height="1.4" fill="#333"/>
<rect x="142.83" y="245.56" width="1.5" height="1.4" fill="#333"/>
<rect x="145.53" y="245.56" width="1.5" height="1.4" fill="#333"/>
<rect x="151.47" y="245.56" width="1.5" height="1.4" fill="#333"/>
<rect x="154.17" y="245.56" width="1.5" height="1.4" fill="#333"/>
<rect x="156.87" y="245.56" width="1.5" height="1.4" fill="#333"/>
<rect x="162.8" y="245.56" width="1.5" height="1.4" fill="#333"/>
<rect x="165.5" y="245.56" width="1.5" height="1.4" fill="#333"/>
<rect x="168.2" y="245.56" width="1.5" height="1.4" fill="#333"/>
<rect x="174.14" y="245.56" width="1.5" height="1.4" fill="#333"/>
<rect x="176.84" y="245.56" width="1.5" height="1.4" fill="#333"/>
<rect x="179.54" y="245.56" width="1.5" height="1.4" fill="#333"/>
<rect x="196.81" y="245.56" width="1.5" height="1.4" fill="#333"/>
<rect x="199.51" y="245.56" width="1.5" height="1.4" fill="#333"/>
<rect x="202.21" y="245.56" width="1.5" height="1.4" fill="#333"/>
<rect x="220.83" y="245.56" width="1.5" height="1.4" fill="#333"/>
<rect x="223.53" y="245.56" width="1.5" height="1.4" fill="#333"/>
<rect x="230.81" y="245.56" width="1.5" height="1.4" fill="#333"/>
<rect x="233.51" y="245.56" width="1.5" height="1.4" fill="#333"/>
<rect x="236.21" y="245.56" width="1.5" height="1.4" fill="#333"/>
<rect x="242.15" y="245.56" width="1.5" height="1.4" fill="#333"/>
<rect x="244.85" y="245.56" width="1.5" height="1.4" fill="#333"/>
<rect x="247.55" y="245.56" width="1.5" height="1.4" fill="#333"/>
<rect x="256.18" y="245.56" width="1.5" height="1.4" fill="#333"/>
<rect x="49.45" y="256.88" width="1.5" height="1.4" fill="#333"/>
<rect x="52.15" y="256.88" width="1.5" height="1.4" fill="#333"/>
<rect x="54.85" y="256.88" width="1.5" height="1.4" fill="#333"/>
<rect x="63.49" y="256.88" width="1.5" height="1.4" fill="#333"/>
<rect x="74.82" y="256.88" width="1.5" height="1.4" fill="#333"/>
<rect x="84.81" y="256.88" width="1.5" height="1.4" fill="#333"/>
<rect x="87.51" y="256.88" width="1.5" height="1.4" fill="#333"/>
<rect x="117.46" y="256.88" width="1.5" height="1.4" fill="#333"/>
<rect x="120.16" y="256.88" width="1.5" height="1.4" fill="#333"/>
<rect x="122.86" y="256.88" width="1.5" height="1.4" fill="#333"/>
<rect x="128.8" y="256.88" width="1.5" height="1.4" fill="#333"/>
<rect x="131.5" y="256.88" width="1.5" height="1.4" fill="#333"/>
<rect x="134.2" y="256.88" width="1.5" height="1.4" fill="#333"/>
<rect x="142.83" y="256.88" width="1.5" height="1.4" fill="#333"/>
<rect x="151.47" y="256.88" width="1.5" height="1.4" fill="#333"/>
<rect x="154.17" y="256.88" width="1.5" height="1.4" fill="#333"/>
<rect x="156.87" y="256.88" width="1.5" height="1.4" fill="#333"/>
<rect x="162.8" y="256.88" width="1.5" height="1.4" fill="#333"/>
<rect x="165.5" y="256.88" width="1.5" height="1.4" fill="#333"/>
<rect x="168.2" y="256.88" width="1.5" height="1.4" fill="#333"/>
<rect x="174.14" y="256.88" width="1.5" height="1.4" fill="#333"/>
<rect x="176.84" y="256.88" width="1.5" height="1.4" fill="#333"/>
<rect x="179.54" y="256.88" width="1.5" height="1.4" fill="#333"/>
<rect x="209.49" y="256.88" width="1.5" height="1.4" fill="#333"/>
<rect x="212.19" y="256.88" width="1.5" height="1.4" fill="#333"/>
<rect x="230.81" y="256.88" width="1.5" height="1.4" fill="#333"/>
<rect x="233.51" y="256.88" width="1.5" height="1.4" fill="#333"/>
<rect x="236.21" y="256.88" width="1.5" height="1.4" fill="#333"/>
<rect x="242.15" y="256.88" width="1.5" height="1.4" fill="#333"/>
<rect x="244.85" y="256.88" width="1.5" height="1.4" fill="#333"/>
<rect x="247.55" y="256.88" width="1.5" height="1.4" fill="#333"/>
<rect x="253.48" y="256.88" width="1.5" height="1.4" fill="#333"/>
<rect x="256.18" y="256.88" width="1.5" height="1.4" fill="#333"/>
<rect x="258.88" y="256.88" width="1.5" height="1.4" fill="#333"/>
<rect x="52.15" y="268.2" width="1.5" height="1.4" fill="#333"/>
<rect x="176.84" y="268.2" width="1.5" height="1.4" fill="#333"/>
<rect x="208.14" y="268.2" width="1.5" height="1.4" fill="#333"/>
<rect x="210.84" y="268.2" width="1.5" height="1.4" fill="#333"/>
<rect x="213.54" y="268.2" width="1.5" height="1.4" fill="#333"/>
<rect x="219.48" y="268.2" width="1.5" height="1.4" fill="#333"/>
<rect x="222.18" y="268.2" width="1.5" height="1.4" fill="#333"/>
<rect x="224.88" y="268.2" width="1.5" height="1.4" fill="#333"/>
<rect x="242.15" y="268.2" width="1.5" height="1.4" fill="#333"/>
<rect x="244.85" y="268.2" width="1.5" height="1.4" fill="#333"/>
<rect x="247.55" y="268.2" width="1.5" height="1.4" fill="#333"/>
<rect x="253.48" y="268.2" width="1.5" height="1.4" fill="#333"/>
<rect x="256.18" y="268.2" width="1.5" height="1.4" fill="#333"/>
<rect x="258.88" y="268.2" width="1.5" height="1.4" fill="#333"/>
<rect x="38.12" y="279.52" width="1.5" height="1.4" fill="#333"/>
<rect x="40.82" y="279.52" width="1.5" height="1.4" fill="#333"/>
<rect x="43.52" y="279.52" width="1.5" height="1.4" fill="#333"/>
<rect x="49.45" y="279.52" width="1.5" height="1.4" fill="#333"/>
<rect x="52.15" y="279.52" width="1.5" height="1.4" fill="#333"/>
<rect x="54.85" y="279.52" width="1.5" height="1.4" fill="#333"/>
<rect x="60.79" y="279.52" width="1.5" height="1.4" fill="#333"/>
<rect x="63.49" y="279.52" width="1.5" height="1.4" fill="#333"/>
<rect x="66.19" y="279.52" width="1.5" height="1.4" fill="#333"/>
<rect x="72.12" y="279.52" width="1.5" height="1.4" fill="#333"/>
<rect x="74.82" y="279.52" width="1.5" height="1.4" fill="#333"/>
<rect x="77.52" y="279.52" width="1.5" height="1.4" fill="#333"/>
<rect x="83.46" y="279.52" width="1.5" height="1.4" fill="#333"/>
<rect x="86.16" y="279.52" width="1.5" height="1.4" fill="#333"/>
<rect x="88.86" y="279.52" width="1.5" height="1.4" fill="#333"/>
<rect x="94.79" y="279.52" width="1.5" height="1.4" fill="#333"/>
<rect x="97.49" y="279.52" width="1.5" height="1.4" fill="#333"/>
<rect x="100.19" y="279.52" width="1.5" height="1.4" fill="#333"/>
<rect x="106.13" y="279.52" width="1.5" height="1.4" fill="#333"/>
<rect x="108.83" y="279.52" width="1.5" height="1.4" fill="#333"/>
<rect x="111.53" y="279.52" width="1.5" height="1.4" fill="#333"/>
<rect x="117.46" y="279.52" width="1.5" height="1.4" fill="#333"/>
<rect x="120.16" y="279.52" width="1.5" height="1.4" fill="#333"/>
<rect x="122.86" y="279.52" width="1.5" height="1.4" fill="#333"/>
<rect x="128.8" y="279.52" width="1.5" height="1.4" fill="#333"/>
<rect x="131.5" y="279.52" width="1.5" height="1.4" fill="#333"/>
<rect x="134.2" y="279.52" width="1.5" height="1.4" fill="#333"/>
<rect x="140.13" y="279.52" width="1.5" height="1.4" fill="#333"/>
<rect x="142.83" y="279.52" width="1.5" height="1.4" fill="#333"/>
<rect x="145.53" y="279.52" width="1.5" height="1.4" fill="#333"/>
<rect x="151.47" y="279.52" width="1.5" height="1.4" fill="#333"/>
<rect x="154.17" y="279.52" width="1.5" height="1.4" fill="#333"/>
<rect x="156.87" y="279.52" width="1.5" height="1.4" fill="#333"/>
<rect x="162.8" y="279.52" width="1.5" height="1.4" fill="#333"/>
<rect x="165.5" y="279.52" width="1.5" height="1.4" fill="#333"/>
<rect x="168.2" y="279.52" width="1.5" height="1.4" fill="#333"/>
<rect x="174.14" y="279.52" width="1.5" height="1.4" fill="#333"/>
<rect x="176.84" y="279.52" width="1.5" height="1.4" fill="#333"/>
<rect x="179.54" y="279.52" width="1.5" height="1.4" fill="#333"/>
<rect x="208.14" y="279.52" width="1.5" height="1.4" fill="#333"/>
<rect x="210.84" y="279.52" width="1.5" height="1.4" fill="#333"/>
<rect x="213.54" y="279.52" width="1.5" height="1.4" fill="#333"/>
<rect x="219.48" y="279.52" width="1.5" height="1.4" fill="#333"/>
<rect x="222.18" y="279.52" width="1.5" height="1.4" fill="#333"/>
<rect x="224.88" y="279.52" width="1.5" height="1.4" fill="#333"/>
<rect x="230.81" y="279.52" width="1.5" height="1.4" fill="#333"/>
<rect x="233.51" y="279.52" width="1.5" height="1.4" fill="#333"/>
<rect x="236.21" y="279.52" width="1.5" height="1.4" fill="#333"/>
<rect x="253.48" y="279.52" width="1.5" height="1.4" fill="#333"/>
<rect x="256.18" y="279.52" width="1.5" height="1.4" fill="#333"/>
<rect x="258.88" y="279.52" width="1.5" height="1.4" fill="#333"/>
<rect x="50.8" y="290.84" width="1.5" height="1.4" fill="#333"/>
<rect x="53.5" y="290.84" width="1.5" height="1.4" fill="#333"/>
<rect x="60.79" y="290.84" width="1.5" height="1.4" fill="#333"/>
<rect x="63.49" y="290.84" width="1.5" height="1.4" fill="#333"/>
<rect x="66.19" y="290.84" width="1.5" height="1.4" fill="#333"/>
<rect x="72.12" y="290.84" width="1.5" height="1.4" fill="#333"/>
<rect x="74.82" y="290.84" width="1.5" height="1.4" fill="#333"/>
<rect x="77.52" y="290.84" width="1.5" height="1.4" fill="#333"/>
<rect x="83.46" y="290.84" width="1.5" height="1.4" fill="#333"/>
<rect x="86.16" y="290.84" width="1.5" height="1.4" fill="#333"/>
<rect x="88.86" y="290.84" width="1.5" height="1.4" fill="#333"/>
<rect x="94.79" y="290.84" width="1.5" height="1.4" fill="#333"/>
<rect x="97.49" y="290.84" width="1.5" height="1.4" fill="#333"/>
<rect x="100.19" y="290.84" width="1.5" height="1.4" fill="#333"/>
<rect x="106.13" y="290.84" width="1.5" height="1.4" fill="#333"/>
<rect x="108.83" y="290.84" width="1.5" height="1.4" fill="#333"/>
<rect x="111.53" y="290.84" width="1.5" height="1.4" fill="#333"/>
<rect x="117.46" y="290.84" width="1.5" height="1.4" fill="#333"/>
<rect x="120.16" y="290.84" width="1.5" height="1.4" fill="#333"/>
<rect x="122.86" y="290.84" width="1.5" height="1.4" fill="#333"/>
<rect x="128.8" y="290.84" width="1.5" height="1.4" fill="#333"/>
<rect x="131.5" y="290.84" width="1.5" height="1.4" fill="#333"/>
<rect x="134.2" y="290.84" width="1.5" height="1.4" fill="#333"/>
<rect x="140.13" y="290.84" width="1.5" height="1.4" fill="#333"/>
<rect x="142.83" y="290.84" width="1.5" height="1.4" fill="#333"/>
<rect x="145.53" y="290.84" width="1.5" height="1.4" fill="#333"/>
<rect x="151.47" y="290.84" width="1.5" height="1.4" fill="#333"/>
<rect x="154.17" y="290.84" width="1.5" height="1.4" fill="#333"/>
<rect x="156.87" y="290.84" width="1.5" height="1.4" fill="#333"/>
<rect x="162.8" y="290.84" width="1.5" height="1.4" fill="#333"/>
<rect x="165.5" y="290.84" width="1.5" height="1.4" fill="#333"/>
<rect x="168.2" y="290.84" width="1.5" height="1.4" fill="#333"/>
<rect x="175.49" y="290.84" width="1.5" height="1.4" fill="#333"/>
<rect x="178.19" y="290.84" width="1.5" height="1.4" fill="#333"/>
<rect x="196.81" y="290.84" width="1.5" height="1.4" fill="#333"/>
<rect x="199.51" y="290.84" width="1.5" height="1.4" fill="#333"/>
<rect x="202.21" y="290.84" width="1.5" height="1.4" fill="#333"/>
<rect x="210.84" y="290.84" width="1.5" height="1.4" fill="#333"/>
<rect x="219.48" y="290.84" width="1.5" height="1.4" fill="#333"/>
<rect x="222.18" y="290.84" width="1.5" height="1.4" fill="#333"/>
<rect x="224.88" y="290.84" width="1.5" height="1.4" fill="#333"/>
<rect x="230.81" y="290.84" width="1.5" height="1.4" fill="#333"/>
<rect x="233.51" y="290.84" width="1.5" height="1.4" fill="#333"/>
<rect x="236.21" y="290.84" width="1.5" height="1.4" fill="#333"/>
<rect x="242.15" y="290.84" width="1.5" height="1.4" fill="#333"/>
<rect x="244.85" y="290.84" width="1.5" height="1.4" fill="#333"/>
<rect x="247.55" y="290.84" width="1.5" height="1.4" fill="#333"/>
<rect x="35.9" y="70.5" width="79.34" height="79.24" fill="none" stroke="#1e1e1e" stroke-width="1"/>
<rect x="115.25" y="149.74" width="79.34" height="79.24" fill="none" stroke="#1e1e1e" stroke-width="1"/>
<rect x="194.59" y="228.98" width="68.01" height="67.92" fill="none" stroke="#1e1e1e" stroke-width="1"/>
<defs><linearGradient id="cb" x1="0" y1="0" x2="0" y2="1"><stop offset="0" stop-color="#ff0000"/><stop offset="0.5" stop-color="#ffffff"/><stop offset="1" stop-color="#0000ff"/></linearGradient></defs>
<rect x="267" y="70.4" width="9" height="226.6" fill="url(#cb)" stroke="#333" stroke-width="0.7"/>
<line x1="276" y1="70.4" x2="277.5" y2="70.4" stroke="#333" stroke-width="0.7"/>
<text x="280.6" y="73.3" font-size="8.1" fill="#1a1a1a">1</text>
<line x1="276" y1="93.06" x2="277.5" y2="93.06" stroke="#333" stroke-width="0.7"/>
<text x="280.6" y="95.96" font-size="8.1" fill="#1a1a1a">0.8</text>
<line x1="276" y1="115.72" x2="277.5" y2="115.72" stroke="#333" stroke-width="0.7"/>
<text x="280.6" y="118.62" font-size="8.1" fill="#1a1a1a">0.6</text>
<line x1="276" y1="138.38" x2="277.5" y2="138.38" stroke="#333" stroke-width="0.7"/>
<text x="280.6" y="141.28" font-size="8.1" fill="#1a1a1a">0.4</text>
<line x1="276" y1="161.04" x2="277.5" y2="161.04" stroke="#333" stroke-width="0.7"/>
<text x="280.6" y="163.94" font-size="8.1" fill="#1a1a1a">0.2</text>
<line x1="276" y1="183.7" x2="277.5" y2="183.7" stroke="#333" stroke-width="0.7"/>
<text x="280.6" y="186.6" font-size="8.1" fill="#1a1a1a">0</text>
<line x1="276" y1="206.36" x2="277.5" y2="206.36" stroke="#333" stroke-width="0.7"/>
<text x="280.6" y="209.26" font-size="8.1" fill="#1a1a1a">−0.2</text>
<line x1="276" y1="229.02" x2="277.5" y2="229.02" stroke="#333" stroke-width="0.7"/>
<text x="280.6" y="231.92" font-size="8.1" fill="#1a1a1a">−0.4</text>
<line x1="276" y1="251.68" x2="277.5" y2="251.68" stroke="#333" stroke-width="0.7"/>
<text x="280.6" y="254.58" font-size="8.1" fill="#1a1a1a">−0.6</text>
<line x1="276" y1="274.34" x2="277.5" y2="274.34" stroke="#333" stroke-width="0.7"/>
<text x="280.6" y="277.24" font-size="8.1" fill="#1a1a1a">−0.8</text>
<line x1="276" y1="297" x2="277.5" y2="297" stroke="#333" stroke-width="0.7"/>
<text x="280.6" y="299.9" font-size="8.1" fill="#1a1a1a">−1</text>
<text x="308.5" y="181.5" font-size="8.5" text-anchor="middle" fill="#1a1a1a" transform="rotate(-90 308.5 181.5)">Spearman's <tspan font-style='italic'>r</tspan></text>
<text x="321.8" y="10.3" font-size="12.8" font-weight="bold" fill="#000">b</text>
<text x="452" y="12.6" font-size="8.2" text-anchor="middle" fill="#1a1a1a">Whole brain coexpression</text>
<line x1="407.5" y1="18.5" x2="407.5" y2="158.5" stroke="#ececec" stroke-width="0.6"/>
<line x1="429.7" y1="18.5" x2="429.7" y2="158.5" stroke="#ececec" stroke-width="0.6"/>
<line x1="451.9" y1="18.5" x2="451.9" y2="158.5" stroke="#ececec" stroke-width="0.6"/>
<line x1="474.1" y1="18.5" x2="474.1" y2="158.5" stroke="#ececec" stroke-width="0.6"/>
<line x1="496.3" y1="18.5" x2="496.3" y2="158.5" stroke="#ececec" stroke-width="0.6"/>
<line x1="397.6" y1="37.2" x2="516" y2="37.2" stroke="#ececec" stroke-width="0.6"/>
<line x1="397.6" y1="51.7" x2="516" y2="51.7" stroke="#ececec" stroke-width="0.6"/>
<line x1="397.6" y1="66.2" x2="516" y2="66.2" stroke="#ececec" stroke-width="0.6"/>
<line x1="397.6" y1="80.7" x2="516" y2="80.7" stroke="#ececec" stroke-width="0.6"/>
<line x1="397.6" y1="95.2" x2="516" y2="95.2" stroke="#ececec" stroke-width="0.6"/>
<line x1="397.6" y1="109.6" x2="516" y2="109.6" stroke="#ececec" stroke-width="0.6"/>
<line x1="397.6" y1="124.2" x2="516" y2="124.2" stroke="#ececec" stroke-width="0.6"/>
<line x1="397.6" y1="138.5" x2="516" y2="138.5" stroke="#ececec" stroke-width="0.6"/>
<line x1="397.6" y1="153.1" x2="516" y2="153.1" stroke="#ececec" stroke-width="0.6"/>
<path d="M403.5,37.2 C404.92,37.18 409.75,37.2 412,37.1 C414.25,37 415.33,36.97 417,36.6 C418.67,36.23 419.83,35.67 422,34.9 C424.17,34.13 427.33,32.93 430,32 C432.67,31.07 435.83,30.17 438,29.3 C440.17,28.43 441.5,27.3 443,26.8 C444.5,26.3 445.58,26.08 447,26.3 C448.42,26.52 449.68,27.7 451.5,28.1 C453.32,28.5 456.15,28.72 457.9,28.7 C459.65,28.68 460.65,28.25 462,28 C463.35,27.75 464.67,27.37 466,27.2 C467.33,27.03 468.67,26.87 470,27 C471.33,27.13 472.67,27.42 474,28 C475.33,28.58 476.67,29.57 478,30.5 C479.33,31.43 480.67,32.68 482,33.6 C483.33,34.52 484.67,35.43 486,36 C487.33,36.57 488.5,36.8 490,37 C491.5,37.2 491.42,37.13 495,37.2 C498.58,37.27 508.75,37.37 511.5,37.4 L511.5,37.2 L403.5,37.2 Z" fill="#ebebeb" stroke="none"/>
<path d="M403.5,37.2 C404.92,37.18 409.75,37.2 412,37.1 C414.25,37 415.33,36.97 417,36.6 C418.67,36.23 419.83,35.67 422,34.9 C424.17,34.13 427.33,32.93 430,32 C432.67,31.07 435.83,30.17 438,29.3 C440.17,28.43 441.5,27.3 443,26.8 C444.5,26.3 445.58,26.08 447,26.3 C448.42,26.52 449.68,27.7 451.5,28.1 C453.32,28.5 456.15,28.72 457.9,28.7 C459.65,28.68 460.65,28.25 462,28 C463.35,27.75 464.67,27.37 466,27.2 C467.33,27.03 468.67,26.87 470,27 C471.33,27.13 472.67,27.42 474,28 C475.33,28.58 476.67,29.57 478,30.5 C479.33,31.43 480.67,32.68 482,33.6 C483.33,34.52 484.67,35.43 486,36 C487.33,36.57 488.5,36.8 490,37 C491.5,37.2 491.42,37.13 495,37.2 C498.58,37.27 508.75,37.37 511.5,37.4" fill="none" stroke="#262626" stroke-width="0.85"/>
<path d="M403.5,51.7 C406.25,51.68 415.98,51.67 420,51.6 C424.02,51.53 425.77,51.73 427.6,51.3 C429.43,50.87 429.77,50.25 431,49 C432.23,47.75 433.67,45.5 435,43.8 C436.33,42.1 437.75,40.17 439,38.8 C440.25,37.43 441.22,36.72 442.5,35.6 C443.78,34.48 445.37,32.9 446.7,32.1 C448.03,31.3 449.37,30.98 450.5,30.8 C451.63,30.62 452.5,30.63 453.5,31 C454.5,31.37 455.42,32.03 456.5,33 C457.58,33.97 458.58,35.13 460,36.8 C461.42,38.47 463.33,41 465,43 C466.67,45 468.33,47.47 470,48.8 C471.67,50.13 471.67,50.55 475,51 C478.33,51.45 483.92,51.37 490,51.5 C496.08,51.63 507.92,51.75 511.5,51.8 L511.5,51.7 L403.5,51.7 Z" fill="#ebebeb" stroke="none"/>
<path d="M403.5,51.7 C406.25,51.68 415.98,51.67 420,51.6 C424.02,51.53 425.77,51.73 427.6,51.3 C429.43,50.87 429.77,50.25 431,49 C432.23,47.75 433.67,45.5 435,43.8 C436.33,42.1 437.75,40.17 439,38.8 C440.25,37.43 441.22,36.72 442.5,35.6 C443.78,34.48 445.37,32.9 446.7,32.1 C448.03,31.3 449.37,30.98 450.5,30.8 C451.63,30.62 452.5,30.63 453.5,31 C454.5,31.37 455.42,32.03 456.5,33 C457.58,33.97 458.58,35.13 460,36.8 C461.42,38.47 463.33,41 465,43 C466.67,45 468.33,47.47 470,48.8 C471.67,50.13 471.67,50.55 475,51 C478.33,51.45 483.92,51.37 490,51.5 C496.08,51.63 507.92,51.75 511.5,51.8" fill="none" stroke="#262626" stroke-width="0.85"/>
<path d="M403.5,66.2 C405.42,66.08 412.25,65.87 415,65.5 C417.75,65.13 418.33,64.67 420,64 C421.67,63.33 423.33,62.33 425,61.5 C426.67,60.67 427.5,59.83 430,59 C432.5,58.17 437.5,56.98 440,56.5 C442.5,56.02 443.3,55.95 445,56.1 C446.7,56.25 448.48,57.03 450.2,57.4 C451.92,57.77 452.83,58.15 455.3,58.3 C457.77,58.45 461.72,58.35 465,58.3 C468.28,58.25 472.5,57.72 475,58 C477.5,58.28 478.5,59.17 480,60 C481.5,60.83 482.67,62.17 484,63 C485.33,63.83 486.17,64.5 488,65 C489.83,65.5 491.08,65.8 495,66 C498.92,66.2 508.75,66.17 511.5,66.2 L511.5,66.2 L403.5,66.2 Z" fill="#ebebeb" stroke="none"/>
<path d="M403.5,66.2 C405.42,66.08 412.25,65.87 415,65.5 C417.75,65.13 418.33,64.67 420,64 C421.67,63.33 423.33,62.33 425,61.5 C426.67,60.67 427.5,59.83 430,59 C432.5,58.17 437.5,56.98 440,56.5 C442.5,56.02 443.3,55.95 445,56.1 C446.7,56.25 448.48,57.03 450.2,57.4 C451.92,57.77 452.83,58.15 455.3,58.3 C457.77,58.45 461.72,58.35 465,58.3 C468.28,58.25 472.5,57.72 475,58 C477.5,58.28 478.5,59.17 480,60 C481.5,60.83 482.67,62.17 484,63 C485.33,63.83 486.17,64.5 488,65 C489.83,65.5 491.08,65.8 495,66 C498.92,66.2 508.75,66.17 511.5,66.2" fill="none" stroke="#262626" stroke-width="0.85"/>
<path d="M403.5,80.6 C405.42,80.5 412.25,80.35 415,80 C417.75,79.65 417.5,79.42 420,78.5 C422.5,77.58 426.67,75.67 430,74.5 C433.33,73.33 437,72.03 440,71.5 C443,70.97 445.33,71.42 448,71.3 C450.67,71.18 453.17,70.92 456,70.8 C458.83,70.68 462.25,70.53 465,70.6 C467.75,70.67 470.43,70.77 472.5,71.2 C474.57,71.63 476.15,72.52 477.4,73.2 C478.65,73.88 478.9,74.5 480,75.3 C481.1,76.1 482.67,77.22 484,78 C485.33,78.78 486.17,79.58 488,80 C489.83,80.42 491.08,80.37 495,80.5 C498.92,80.63 508.75,80.75 511.5,80.8 L511.5,80.7 L403.5,80.7 Z" fill="#cccccc" stroke="none"/>
<path d="M403.5,80.6 C405.42,80.5 412.25,80.35 415,80 C417.75,79.65 417.5,79.42 420,78.5 C422.5,77.58 426.67,75.67 430,74.5 C433.33,73.33 437,72.03 440,71.5 C443,70.97 445.33,71.42 448,71.3 C450.67,71.18 453.17,70.92 456,70.8 C458.83,70.68 462.25,70.53 465,70.6 C467.75,70.67 470.43,70.77 472.5,71.2 C474.57,71.63 476.15,72.52 477.4,73.2 C478.65,73.88 478.9,74.5 480,75.3 C481.1,76.1 482.67,77.22 484,78 C485.33,78.78 486.17,79.58 488,80 C489.83,80.42 491.08,80.37 495,80.5 C498.92,80.63 508.75,80.75 511.5,80.8" fill="none" stroke="#262626" stroke-width="0.85"/>
<path d="M403.5,95.2 C406.25,95.18 415.92,95.18 420,95.1 C424.08,95.02 426,95.08 428,94.7 C430,94.32 430.48,94.03 432,92.8 C433.52,91.57 435.73,88.67 437.1,87.3 C438.47,85.93 439.05,85.9 440.2,84.6 C441.35,83.3 442.7,81.35 444,79.5 C445.3,77.65 446.83,74.95 448,73.5 C449.17,72.05 450,71.22 451,70.8 C452,70.38 453.08,70.38 454,71 C454.92,71.62 455.78,73.05 456.5,74.5 C457.22,75.95 457.4,77.78 458.3,79.7 C459.2,81.62 460.45,83.95 461.9,86 C463.35,88.05 465.32,90.58 467,92 C468.68,93.42 469.83,93.97 472,94.5 C474.17,95.03 473.42,95.07 480,95.2 C486.58,95.33 506.25,95.28 511.5,95.3 L511.5,95.2 L403.5,95.2 Z" fill="#cccccc" stroke="none"/>
<path d="M403.5,95.2 C406.25,95.18 415.92,95.18 420,95.1 C424.08,95.02 426,95.08 428,94.7 C430,94.32 430.48,94.03 432,92.8 C433.52,91.57 435.73,88.67 437.1,87.3 C438.47,85.93 439.05,85.9 440.2,84.6 C441.35,83.3 442.7,81.35 444,79.5 C445.3,77.65 446.83,74.95 448,73.5 C449.17,72.05 450,71.22 451,70.8 C452,70.38 453.08,70.38 454,71 C454.92,71.62 455.78,73.05 456.5,74.5 C457.22,75.95 457.4,77.78 458.3,79.7 C459.2,81.62 460.45,83.95 461.9,86 C463.35,88.05 465.32,90.58 467,92 C468.68,93.42 469.83,93.97 472,94.5 C474.17,95.03 473.42,95.07 480,95.2 C486.58,95.33 506.25,95.28 511.5,95.3" fill="none" stroke="#262626" stroke-width="0.85"/>
<path d="M403.5,109.6 C405.42,109.52 412.25,109.43 415,109.1 C417.75,108.77 417.5,108.62 420,107.6 C422.5,106.58 427.5,104 430,103 C432.5,102 432.75,101.87 435,101.6 C437.25,101.33 440.17,101.5 443.5,101.4 C446.83,101.3 452.25,101.18 455,101 C457.75,100.82 457.5,100.55 460,100.3 C462.5,100.05 467.63,99.35 470,99.5 C472.37,99.65 472.5,100.45 474.2,101.2 C475.9,101.95 478.57,103.12 480.2,104 C481.83,104.88 482.7,105.75 484,106.5 C485.3,107.25 486.17,108.02 488,108.5 C489.83,108.98 491.08,109.22 495,109.4 C498.92,109.58 508.75,109.57 511.5,109.6 L511.5,109.6 L403.5,109.6 Z" fill="#cccccc" stroke="none"/>
<path d="M403.5,109.6 C405.42,109.52 412.25,109.43 415,109.1 C417.75,108.77 417.5,108.62 420,107.6 C422.5,106.58 427.5,104 430,103 C432.5,102 432.75,101.87 435,101.6 C437.25,101.33 440.17,101.5 443.5,101.4 C446.83,101.3 452.25,101.18 455,101 C457.75,100.82 457.5,100.55 460,100.3 C462.5,100.05 467.63,99.35 470,99.5 C472.37,99.65 472.5,100.45 474.2,101.2 C475.9,101.95 478.57,103.12 480.2,104 C481.83,104.88 482.7,105.75 484,106.5 C485.3,107.25 486.17,108.02 488,108.5 C489.83,108.98 491.08,109.22 495,109.4 C498.92,109.58 508.75,109.57 511.5,109.6" fill="none" stroke="#262626" stroke-width="0.85"/>
<path d="M403.5,124.2 C405.42,124.08 412.25,123.93 415,123.5 C417.75,123.07 417.83,122.65 420,121.6 C422.17,120.55 425.5,118.17 428,117.2 C430.5,116.23 432.67,116.1 435,115.8 C437.33,115.5 440,115.78 442,115.4 C444,115.02 445.33,114.2 447,113.5 C448.67,112.8 450.67,111.12 452,111.2 C453.33,111.28 453.97,113.37 455,114 C456.03,114.63 456.7,114.78 458.2,115 C459.7,115.22 461.92,115.22 464,115.3 C466.08,115.38 468.32,115.15 470.7,115.5 C473.08,115.85 475.92,116.48 478.3,117.4 C480.68,118.32 483.05,119.98 485,121 C486.95,122.02 488.17,122.97 490,123.5 C491.83,124.03 492.42,124.05 496,124.2 C499.58,124.35 508.92,124.37 511.5,124.4 L511.5,124.2 L403.5,124.2 Z" fill="#ababab" stroke="none"/>
<path d="M403.5,124.2 C405.42,124.08 412.25,123.93 415,123.5 C417.75,123.07 417.83,122.65 420,121.6 C422.17,120.55 425.5,118.17 428,117.2 C430.5,116.23 432.67,116.1 435,115.8 C437.33,115.5 440,115.78 442,115.4 C444,115.02 445.33,114.2 447,113.5 C448.67,112.8 450.67,111.12 452,111.2 C453.33,111.28 453.97,113.37 455,114 C456.03,114.63 456.7,114.78 458.2,115 C459.7,115.22 461.92,115.22 464,115.3 C466.08,115.38 468.32,115.15 470.7,115.5 C473.08,115.85 475.92,116.48 478.3,117.4 C480.68,118.32 483.05,119.98 485,121 C486.95,122.02 488.17,122.97 490,123.5 C491.83,124.03 492.42,124.05 496,124.2 C499.58,124.35 508.92,124.37 511.5,124.4" fill="none" stroke="#262626" stroke-width="0.85"/>
<path d="M403.5,138.5 C406.25,138.48 416.08,138.48 420,138.4 C423.92,138.32 425.17,138.4 427,138 C428.83,137.6 429.67,136.83 431,136 C432.33,135.17 433.57,134.18 435,133 C436.43,131.82 437.93,130.82 439.6,128.9 C441.27,126.98 443.17,123.85 445,121.5 C446.83,119.15 449.18,116.18 450.6,114.8 C452.02,113.42 452.6,113 453.5,113.2 C454.4,113.4 455.22,114.92 456,116 C456.78,117.08 457.2,117.73 458.2,119.7 C459.2,121.67 460.7,125.42 462,127.8 C463.3,130.18 464.67,132.38 466,134 C467.33,135.62 468.33,136.77 470,137.5 C471.67,138.23 469.08,138.23 476,138.4 C482.92,138.57 505.58,138.48 511.5,138.5 L511.5,138.5 L403.5,138.5 Z" fill="#ababab" stroke="none"/>
<path d="M403.5,138.5 C406.25,138.48 416.08,138.48 420,138.4 C423.92,138.32 425.17,138.4 427,138 C428.83,137.6 429.67,136.83 431,136 C432.33,135.17 433.57,134.18 435,133 C436.43,131.82 437.93,130.82 439.6,128.9 C441.27,126.98 443.17,123.85 445,121.5 C446.83,119.15 449.18,116.18 450.6,114.8 C452.02,113.42 452.6,113 453.5,113.2 C454.4,113.4 455.22,114.92 456,116 C456.78,117.08 457.2,117.73 458.2,119.7 C459.2,121.67 460.7,125.42 462,127.8 C463.3,130.18 464.67,132.38 466,134 C467.33,135.62 468.33,136.77 470,137.5 C471.67,138.23 469.08,138.23 476,138.4 C482.92,138.57 505.58,138.48 511.5,138.5" fill="none" stroke="#262626" stroke-width="0.85"/>
<path d="M403.5,153.1 C405.42,152.92 412.25,152.58 415,152 C417.75,151.42 417.83,150.6 420,149.6 C422.17,148.6 426,146.77 428,146 C430,145.23 430,145.08 432,145 C434,144.92 437.83,145.58 440,145.5 C442.17,145.42 443.67,144.88 445,144.5 C446.33,144.12 446.83,143.38 448,143.2 C449.17,143.02 450.93,143.27 452,143.4 C453.07,143.53 453.07,143.73 454.4,144 C455.73,144.27 458.22,144.8 460,145 C461.78,145.2 463.43,145.32 465.1,145.2 C466.77,145.08 467.73,144.03 470,144.3 C472.27,144.57 476.2,145.77 478.7,146.8 C481.2,147.83 483.12,149.55 485,150.5 C486.88,151.45 488.17,152.07 490,152.5 C491.83,152.93 492.42,152.97 496,153.1 C499.58,153.23 508.92,153.27 511.5,153.3 L511.5,153.1 L403.5,153.1 Z" fill="#ababab" stroke="none"/>
<path d="M403.5,153.1 C405.42,152.92 412.25,152.58 415,152 C417.75,151.42 417.83,150.6 420,149.6 C422.17,148.6 426,146.77 428,146 C430,145.23 430,145.08 432,145 C434,144.92 437.83,145.58 440,145.5 C442.17,145.42 443.67,144.88 445,144.5 C446.33,144.12 446.83,143.38 448,143.2 C449.17,143.02 450.93,143.27 452,143.4 C453.07,143.53 453.07,143.73 454.4,144 C455.73,144.27 458.22,144.8 460,145 C461.78,145.2 463.43,145.32 465.1,145.2 C466.77,145.08 467.73,144.03 470,144.3 C472.27,144.57 476.2,145.77 478.7,146.8 C481.2,147.83 483.12,149.55 485,150.5 C486.88,151.45 488.17,152.07 490,152.5 C491.83,152.93 492.42,152.97 496,153.1 C499.58,153.23 508.92,153.27 511.5,153.3" fill="none" stroke="#262626" stroke-width="0.85"/>
<circle cx="451.5" cy="28.1" r="2.75" fill="#dd1c77"/>
<circle cx="457.9" cy="28.7" r="2.75" fill="#c994c7"/>
<circle cx="451.5" cy="31.2" r="2.75" fill="#c994c7"/>
<circle cx="446.7" cy="32.1" r="2.75" fill="#dd1c77"/>
<circle cx="450.2" cy="57.4" r="2.75" fill="#dd1c77"/>
<circle cx="455.3" cy="58.3" r="2.75" fill="#c994c7"/>
<circle cx="455.7" cy="71.4" r="2.75" fill="#e34a33"/>
<circle cx="448" cy="71.7" r="2.75" fill="#fc8d59"/>
<circle cx="472.5" cy="71.4" r="2.75" fill="#e34a33"/>
<circle cx="477.4" cy="73.2" r="2.75" fill="#b30000"/>
<circle cx="442.3" cy="82.8" r="2.75" fill="#fee8c8"/>
<circle cx="437.1" cy="87.3" r="2.75" fill="#fdbb84"/>
<circle cx="440.2" cy="84.6" r="2.75" fill="#fc8d59"/>
<circle cx="458.3" cy="79.7" r="2.75" fill="#b30000"/>
<circle cx="443.5" cy="101.7" r="2.75" fill="#fc8d59"/>
<circle cx="474.2" cy="101.4" r="2.75" fill="#b30000"/>
<circle cx="480.2" cy="104.2" r="2.75" fill="#e34a33"/>
<circle cx="452" cy="111.2" r="2.75" fill="#2c6fbb"/>
<circle cx="478.3" cy="117.4" r="2.75" fill="#c7e9b4"/>
<circle cx="454.8" cy="114.4" r="2.75" fill="#41b6c4"/>
<circle cx="450.6" cy="114.4" r="2.75" fill="#0c2c84"/>
<circle cx="458.2" cy="115" r="2.75" fill="#0c2c84"/>
<circle cx="470.2" cy="115.7" r="2.75" fill="#1d91c0"/>
<circle cx="471.2" cy="115.5" r="2.75" fill="#2c6fbb"/>
<circle cx="457.6" cy="119.9" r="2.75" fill="#41b6c4"/>
<circle cx="439.6" cy="128.9" r="2.75" fill="#ffffcc"/>
<circle cx="452" cy="143.4" r="2.75" fill="#41b6c4"/>
<circle cx="454.4" cy="144" r="2.75" fill="#0c2c84"/>
<circle cx="465.1" cy="145.2" r="2.75" fill="#1d91c0"/>
<circle cx="478.7" cy="146.8" r="2.75" fill="#2c6fbb"/>
<text x="396.8" y="36.9" font-size="8.2" text-anchor="end" fill="#1a1a1a">OXTR-oxytocinergic</text>
<text x="396.8" y="51.6" font-size="8.2" text-anchor="end" fill="#1a1a1a">OXT-oxytocinergic</text>
<text x="396.8" y="63.4" font-size="8.2" text-anchor="end" fill="#1a1a1a">CD38-oxytocinergic</text>
<text x="396.8" y="80.7" font-size="8.2" text-anchor="end" fill="#1a1a1a">OXTR-cholinergic</text>
<text x="396.8" y="95.1" font-size="8.2" text-anchor="end" fill="#1a1a1a">OXT-cholinergic</text>
<text x="396.8" y="109.5" font-size="8.2" text-anchor="end" fill="#1a1a1a">CD38-cholinergic</text>
<text x="396.8" y="123.6" font-size="8.2" text-anchor="end" fill="#1a1a1a">OXTR-dopaminergic</text>
<text x="396.8" y="138" font-size="8.2" text-anchor="end" fill="#1a1a1a">OXT-dopaminergic</text>
<text x="396.8" y="152.3" font-size="8.2" text-anchor="end" fill="#1a1a1a">CD38-dopaminergic</text>
<text x="408" y="169.2" font-size="8.6" text-anchor="middle" fill="#1a1a1a">−1.0</text>
<text x="430.2" y="169.2" font-size="8.6" text-anchor="middle" fill="#1a1a1a">−0.5</text>
<text x="451.9" y="169.2" font-size="8.6" text-anchor="middle" fill="#1a1a1a">0.0</text>
<text x="474.1" y="169.2" font-size="8.6" text-anchor="middle" fill="#1a1a1a">0.5</text>
<text x="496.3" y="169.2" font-size="8.6" text-anchor="middle" fill="#1a1a1a">1.0</text>
<text x="452.5" y="179.6" font-size="8.2" text-anchor="middle" fill="#1a1a1a">Spearman's <tspan font-style='italic'>r</tspan></text>
<text x="521.2" y="10.1" font-size="12.8" font-weight="bold" fill="#000">c</text>
<text x="534.3" y="12.7" font-size="8.2" fill="#1a1a1a">Cortex-only coexpression</text>
<line x1="535.4" y1="18.5" x2="535.4" y2="158.5" stroke="#ececec" stroke-width="0.6"/>
<line x1="565.5" y1="18.5" x2="565.5" y2="158.5" stroke="#ececec" stroke-width="0.6"/>
<line x1="595.6" y1="18.5" x2="595.6" y2="158.5" stroke="#ececec" stroke-width="0.6"/>
<line x1="625.6" y1="18.5" x2="625.6" y2="158.5" stroke="#ececec" stroke-width="0.6"/>
<line x1="526" y1="37.2" x2="644" y2="37.2" stroke="#ececec" stroke-width="0.6"/>
<line x1="526" y1="51.8" x2="644" y2="51.8" stroke="#ececec" stroke-width="0.6"/>
<line x1="526" y1="66.6" x2="644" y2="66.6" stroke="#ececec" stroke-width="0.6"/>
<line x1="526" y1="80.8" x2="644" y2="80.8" stroke="#ececec" stroke-width="0.6"/>
<line x1="526" y1="95.4" x2="644" y2="95.4" stroke="#ececec" stroke-width="0.6"/>
<line x1="526" y1="109.8" x2="644" y2="109.8" stroke="#ececec" stroke-width="0.6"/>
<line x1="526" y1="124.5" x2="644" y2="124.5" stroke="#ececec" stroke-width="0.6"/>
<line x1="526" y1="138.5" x2="644" y2="138.5" stroke="#ececec" stroke-width="0.6"/>
<line x1="526" y1="153.4" x2="644" y2="153.4" stroke="#ececec" stroke-width="0.6"/>
<path d="M530,37.2 C531.67,37.07 537,36.87 540,36.4 C543,35.93 546,35.23 548,34.4 C550,33.57 550.5,32.3 552,31.4 C553.5,30.5 555.2,29.72 557,29 C558.8,28.28 561.42,27.98 562.8,27.1 C564.18,26.22 564.43,24.72 565.3,23.7 C566.17,22.68 567.13,21.68 568,21 C568.87,20.32 569.67,19.88 570.5,19.6 C571.33,19.32 571.92,18.98 573,19.3 C574.08,19.62 575.5,20.28 577,21.5 C578.5,22.72 580.5,25.1 582,26.6 C583.5,28.1 584.67,29.57 586,30.5 C587.33,31.43 588.5,31.48 590,32.2 C591.5,32.92 593.33,34.02 595,34.8 C596.67,35.58 597.5,36.5 600,36.9 C602.5,37.3 606.67,37.15 610,37.2 C613.33,37.25 617.5,37.25 620,37.2 C622.5,37.15 623.33,36.9 625,36.9 C626.67,36.9 627.92,37.13 630,37.2 C632.08,37.27 636.25,37.28 637.5,37.3 L637.5,37.2 L530,37.2 Z" fill="#ebebeb" stroke="none"/>
<path d="M530,37.2 C531.67,37.07 537,36.87 540,36.4 C543,35.93 546,35.23 548,34.4 C550,33.57 550.5,32.3 552,31.4 C553.5,30.5 555.2,29.72 557,29 C558.8,28.28 561.42,27.98 562.8,27.1 C564.18,26.22 564.43,24.72 565.3,23.7 C566.17,22.68 567.13,21.68 568,21 C568.87,20.32 569.67,19.88 570.5,19.6 C571.33,19.32 571.92,18.98 573,19.3 C574.08,19.62 575.5,20.28 577,21.5 C578.5,22.72 580.5,25.1 582,26.6 C583.5,28.1 584.67,29.57 586,30.5 C587.33,31.43 588.5,31.48 590,32.2 C591.5,32.92 593.33,34.02 595,34.8 C596.67,35.58 597.5,36.5 600,36.9 C602.5,37.3 606.67,37.15 610,37.2 C613.33,37.25 617.5,37.25 620,37.2 C622.5,37.15 623.33,36.9 625,36.9 C626.67,36.9 627.92,37.13 630,37.2 C632.08,37.27 636.25,37.28 637.5,37.3" fill="none" stroke="#262626" stroke-width="0.85"/>
<path d="M530,51.7 C531.67,51.67 537.17,51.68 540,51.5 C542.83,51.32 544.93,51.22 547,50.6 C549.07,49.98 551.07,49.23 552.4,47.8 C553.73,46.37 554.07,43.97 555,42 C555.93,40.03 557,37.63 558,36 C559,34.37 559.83,33.1 561,32.2 C562.17,31.3 563.67,30.42 565,30.6 C566.33,30.78 567.5,31.9 569,33.3 C570.5,34.7 572.17,36.92 574,39 C575.83,41.08 578.17,43.97 580,45.8 C581.83,47.63 583.33,49.08 585,50 C586.67,50.92 585.83,51.03 590,51.3 C594.17,51.57 604.17,51.6 610,51.6 C615.83,51.6 620.42,51.27 625,51.3 C629.58,51.33 635.42,51.72 637.5,51.8 L637.5,51.8 L530,51.8 Z" fill="#ebebeb" stroke="none"/>
<path d="M530,51.7 C531.67,51.67 537.17,51.68 540,51.5 C542.83,51.32 544.93,51.22 547,50.6 C549.07,49.98 551.07,49.23 552.4,47.8 C553.73,46.37 554.07,43.97 555,42 C555.93,40.03 557,37.63 558,36 C559,34.37 559.83,33.1 561,32.2 C562.17,31.3 563.67,30.42 565,30.6 C566.33,30.78 567.5,31.9 569,33.3 C570.5,34.7 572.17,36.92 574,39 C575.83,41.08 578.17,43.97 580,45.8 C581.83,47.63 583.33,49.08 585,50 C586.67,50.92 585.83,51.03 590,51.3 C594.17,51.57 604.17,51.6 610,51.6 C615.83,51.6 620.42,51.27 625,51.3 C629.58,51.33 635.42,51.72 637.5,51.8" fill="none" stroke="#262626" stroke-width="0.85"/>
<path d="M530,66.5 C531.67,66.33 537,66.42 540,65.5 C543,64.58 545.83,62.67 548,61 C550.17,59.33 551.5,56.77 553,55.5 C554.5,54.23 555.5,53.72 557,53.4 C558.5,53.08 560.5,53.42 562,53.6 C563.5,53.78 564.83,54.33 566,54.5 C567.17,54.67 567.5,54.35 569,54.6 C570.5,54.85 573.17,55.17 575,56 C576.83,56.83 577.5,58.43 580,59.6 C582.5,60.77 586.67,61.93 590,63 C593.33,64.07 596.67,65.42 600,66 C603.33,66.58 605.83,66.47 610,66.5 C614.17,66.53 620.42,66.18 625,66.2 C629.58,66.22 635.42,66.53 637.5,66.6 L637.5,66.6 L530,66.6 Z" fill="#ebebeb" stroke="none"/>
<path d="M530,66.5 C531.67,66.33 537,66.42 540,65.5 C543,64.58 545.83,62.67 548,61 C550.17,59.33 551.5,56.77 553,55.5 C554.5,54.23 555.5,53.72 557,53.4 C558.5,53.08 560.5,53.42 562,53.6 C563.5,53.78 564.83,54.33 566,54.5 C567.17,54.67 567.5,54.35 569,54.6 C570.5,54.85 573.17,55.17 575,56 C576.83,56.83 577.5,58.43 580,59.6 C582.5,60.77 586.67,61.93 590,63 C593.33,64.07 596.67,65.42 600,66 C603.33,66.58 605.83,66.47 610,66.5 C614.17,66.53 620.42,66.18 625,66.2 C629.58,66.22 635.42,66.53 637.5,66.6" fill="none" stroke="#262626" stroke-width="0.85"/>
<path d="M530,80.8 C531.67,80.58 537,80.13 540,79.5 C543,78.87 545.67,77.88 548,77 C550.33,76.12 552.28,74.67 554,74.2 C555.72,73.73 557.05,74.95 558.3,74.2 C559.55,73.45 560.35,70.45 561.5,69.7 C562.65,68.95 563.98,70.3 565.2,69.7 C566.42,69.1 567.67,66.7 568.8,66.1 C569.93,65.5 570.8,65.92 572,66.1 C573.2,66.28 574.72,66.72 576,67.2 C577.28,67.68 578.2,68.2 579.7,69 C581.2,69.8 583.28,71 585,72 C586.72,73 588,74.08 590,75 C592,75.92 594.83,76.6 597,77.5 C599.17,78.4 600.5,79.85 603,80.4 C605.5,80.95 606.25,80.73 612,80.8 C617.75,80.87 633.25,80.8 637.5,80.8 L637.5,80.8 L530,80.8 Z" fill="#cccccc" stroke="none"/>
<path d="M530,80.8 C531.67,80.58 537,80.13 540,79.5 C543,78.87 545.67,77.88 548,77 C550.33,76.12 552.28,74.67 554,74.2 C555.72,73.73 557.05,74.95 558.3,74.2 C559.55,73.45 560.35,70.45 561.5,69.7 C562.65,68.95 563.98,70.3 565.2,69.7 C566.42,69.1 567.67,66.7 568.8,66.1 C569.93,65.5 570.8,65.92 572,66.1 C573.2,66.28 574.72,66.72 576,67.2 C577.28,67.68 578.2,68.2 579.7,69 C581.2,69.8 583.28,71 585,72 C586.72,73 588,74.08 590,75 C592,75.92 594.83,76.6 597,77.5 C599.17,78.4 600.5,79.85 603,80.4 C605.5,80.95 606.25,80.73 612,80.8 C617.75,80.87 633.25,80.8 637.5,80.8" fill="none" stroke="#262626" stroke-width="0.85"/>
<path d="M530,95.4 C531.67,95.25 537.17,95.03 540,94.5 C542.83,93.97 545,93.37 547,92.2 C549,91.03 550.67,89.2 552,87.5 C553.33,85.8 554,83.92 555,82 C556,80.08 557.08,77.75 558,76 C558.92,74.25 559.67,72.75 560.5,71.5 C561.33,70.25 562.17,68.83 563,68.5 C563.83,68.17 564.75,68.75 565.5,69.5 C566.25,70.25 566.67,71.5 567.5,73 C568.33,74.5 569.42,76.5 570.5,78.5 C571.58,80.5 572.88,83.23 574,85 C575.12,86.77 576.2,88.05 577.2,89.1 C578.2,90.15 578.92,90.72 580,91.3 C581.08,91.88 582.03,92.07 583.7,92.6 C585.37,93.13 587.28,94.05 590,94.5 C592.72,94.95 592.08,95.15 600,95.3 C607.92,95.45 631.25,95.38 637.5,95.4 L637.5,95.4 L530,95.4 Z" fill="#cccccc" stroke="none"/>
<path d="M530,95.4 C531.67,95.25 537.17,95.03 540,94.5 C542.83,93.97 545,93.37 547,92.2 C549,91.03 550.67,89.2 552,87.5 C553.33,85.8 554,83.92 555,82 C556,80.08 557.08,77.75 558,76 C558.92,74.25 559.67,72.75 560.5,71.5 C561.33,70.25 562.17,68.83 563,68.5 C563.83,68.17 564.75,68.75 565.5,69.5 C566.25,70.25 566.67,71.5 567.5,73 C568.33,74.5 569.42,76.5 570.5,78.5 C571.58,80.5 572.88,83.23 574,85 C575.12,86.77 576.2,88.05 577.2,89.1 C578.2,90.15 578.92,90.72 580,91.3 C581.08,91.88 582.03,92.07 583.7,92.6 C585.37,93.13 587.28,94.05 590,94.5 C592.72,94.95 592.08,95.15 600,95.3 C607.92,95.45 631.25,95.38 637.5,95.4" fill="none" stroke="#262626" stroke-width="0.85"/>
<path d="M530,109.8 C531.17,109.68 535.33,109.5 537,109.1 C538.67,108.7 538.97,107.95 540,107.4 C541.03,106.85 541.87,106.52 543.2,105.8 C544.53,105.08 546.37,103.8 548,103.1 C549.63,102.4 551.22,102.1 553,101.6 C554.78,101.1 556.7,100.3 558.7,100.1 C560.7,99.9 563.12,101.05 565,100.4 C566.88,99.75 568.75,97.13 570,96.2 C571.25,95.27 571.4,94.42 572.5,94.8 C573.6,95.18 575.35,97.37 576.6,98.5 C577.85,99.63 578.33,100.65 580,101.6 C581.67,102.55 584.93,103.47 586.6,104.2 C588.27,104.93 588.27,105.17 590,106 C591.73,106.83 594.5,108.57 597,109.2 C599.5,109.83 598.25,109.68 605,109.8 C611.75,109.92 632.08,109.88 637.5,109.9 L637.5,109.8 L530,109.8 Z" fill="#cccccc" stroke="none"/>
<path d="M530,109.8 C531.17,109.68 535.33,109.5 537,109.1 C538.67,108.7 538.97,107.95 540,107.4 C541.03,106.85 541.87,106.52 543.2,105.8 C544.53,105.08 546.37,103.8 548,103.1 C549.63,102.4 551.22,102.1 553,101.6 C554.78,101.1 556.7,100.3 558.7,100.1 C560.7,99.9 563.12,101.05 565,100.4 C566.88,99.75 568.75,97.13 570,96.2 C571.25,95.27 571.4,94.42 572.5,94.8 C573.6,95.18 575.35,97.37 576.6,98.5 C577.85,99.63 578.33,100.65 580,101.6 C581.67,102.55 584.93,103.47 586.6,104.2 C588.27,104.93 588.27,105.17 590,106 C591.73,106.83 594.5,108.57 597,109.2 C599.5,109.83 598.25,109.68 605,109.8 C611.75,109.92 632.08,109.88 637.5,109.9" fill="none" stroke="#262626" stroke-width="0.85"/>
<path d="M530,124.5 C531.28,124.23 535.12,123.57 537.7,122.9 C540.28,122.23 542.9,121.28 545.5,120.5 C548.1,119.72 550.82,118.88 553.3,118.2 C555.78,117.52 558.77,117 560.4,116.4 C562.03,115.8 562,115.58 563.1,114.6 C564.2,113.62 565.92,111.45 567,110.5 C568.08,109.55 568.55,108.9 569.6,108.9 C570.65,108.9 571.9,109.88 573.3,110.5 C574.7,111.12 576.58,111.82 578,112.6 C579.42,113.38 580.63,114.47 581.8,115.2 C582.97,115.93 583.63,116.37 585,117 C586.37,117.63 588,118.42 590,119 C592,119.58 594.5,119.77 597,120.5 C599.5,121.23 602.5,122.73 605,123.4 C607.5,124.07 606.58,124.32 612,124.5 C617.42,124.68 633.25,124.5 637.5,124.5 L637.5,124.5 L530,124.5 Z" fill="#ababab" stroke="none"/>
<path d="M530,124.5 C531.28,124.23 535.12,123.57 537.7,122.9 C540.28,122.23 542.9,121.28 545.5,120.5 C548.1,119.72 550.82,118.88 553.3,118.2 C555.78,117.52 558.77,117 560.4,116.4 C562.03,115.8 562,115.58 563.1,114.6 C564.2,113.62 565.92,111.45 567,110.5 C568.08,109.55 568.55,108.9 569.6,108.9 C570.65,108.9 571.9,109.88 573.3,110.5 C574.7,111.12 576.58,111.82 578,112.6 C579.42,113.38 580.63,114.47 581.8,115.2 C582.97,115.93 583.63,116.37 585,117 C586.37,117.63 588,118.42 590,119 C592,119.58 594.5,119.77 597,120.5 C599.5,121.23 602.5,122.73 605,123.4 C607.5,124.07 606.58,124.32 612,124.5 C617.42,124.68 633.25,124.5 637.5,124.5" fill="none" stroke="#262626" stroke-width="0.85"/>
<path d="M530,138.5 C532.83,138.45 543.33,138.87 547,138.2 C550.67,137.53 550.67,136.12 552,134.5 C553.33,132.88 554.1,130.15 555,128.5 C555.9,126.85 556.63,125.83 557.4,124.6 C558.17,123.37 558.83,122.23 559.6,121.1 C560.37,119.97 561.1,118.57 562,117.8 C562.9,117.03 564.08,116.38 565,116.5 C565.92,116.62 566.73,117.73 567.5,118.5 C568.27,119.27 568.63,120.27 569.6,121.1 C570.57,121.93 571.9,122.35 573.3,123.5 C574.7,124.65 576.55,126.42 578,128 C579.45,129.58 580.5,131.43 582,133 C583.5,134.57 585.33,136.5 587,137.4 C588.67,138.3 583.58,138.22 592,138.4 C600.42,138.58 629.92,138.48 637.5,138.5 L637.5,138.5 L530,138.5 Z" fill="#ababab" stroke="none"/>
<path d="M530,138.5 C532.83,138.45 543.33,138.87 547,138.2 C550.67,137.53 550.67,136.12 552,134.5 C553.33,132.88 554.1,130.15 555,128.5 C555.9,126.85 556.63,125.83 557.4,124.6 C558.17,123.37 558.83,122.23 559.6,121.1 C560.37,119.97 561.1,118.57 562,117.8 C562.9,117.03 564.08,116.38 565,116.5 C565.92,116.62 566.73,117.73 567.5,118.5 C568.27,119.27 568.63,120.27 569.6,121.1 C570.57,121.93 571.9,122.35 573.3,123.5 C574.7,124.65 576.55,126.42 578,128 C579.45,129.58 580.5,131.43 582,133 C583.5,134.57 585.33,136.5 587,137.4 C588.67,138.3 583.58,138.22 592,138.4 C600.42,138.58 629.92,138.48 637.5,138.5" fill="none" stroke="#262626" stroke-width="0.85"/>
<path d="M530,153.4 C531.17,153.27 535,153.45 537,152.6 C539,151.75 540.33,149.8 542,148.3 C543.67,146.8 545.67,144.72 547,143.6 C548.33,142.48 548.67,142 550,141.6 C551.33,141.2 553.08,140.98 555,141.2 C556.92,141.42 559.47,142.8 561.5,142.9 C563.53,143 565.78,142.07 567.2,141.8 C568.62,141.53 568.7,141.1 570,141.3 C571.3,141.5 573.33,142.05 575,143 C576.67,143.95 578.33,146.17 580,147 C581.67,147.83 583.33,147.75 585,148 C586.67,148.25 587.78,147.98 590,148.5 C592.22,149.02 595.8,150.35 598.3,151.1 C600.8,151.85 598.47,152.6 605,153 C611.53,153.4 632.08,153.42 637.5,153.5 L637.5,153.4 L530,153.4 Z" fill="#ababab" stroke="none"/>
<path d="M530,153.4 C531.17,153.27 535,153.45 537,152.6 C539,151.75 540.33,149.8 542,148.3 C543.67,146.8 545.67,144.72 547,143.6 C548.33,142.48 548.67,142 550,141.6 C551.33,141.2 553.08,140.98 555,141.2 C556.92,141.42 559.47,142.8 561.5,142.9 C563.53,143 565.78,142.07 567.2,141.8 C568.62,141.53 568.7,141.1 570,141.3 C571.3,141.5 573.33,142.05 575,143 C576.67,143.95 578.33,146.17 580,147 C581.67,147.83 583.33,147.75 585,148 C586.67,148.25 587.78,147.98 590,148.5 C592.22,149.02 595.8,150.35 598.3,151.1 C600.8,151.85 598.47,152.6 605,153 C611.53,153.4 632.08,153.42 637.5,153.5" fill="none" stroke="#262626" stroke-width="0.85"/>
<circle cx="562.8" cy="27.1" r="2.75" fill="#dd1c77"/>
<circle cx="565.3" cy="23.7" r="2.75" fill="#c994c7"/>
<circle cx="552.4" cy="47.8" r="2.75" fill="#dd1c77"/>
<circle cx="569" cy="33.3" r="2.75" fill="#c994c7"/>
<circle cx="566" cy="54.5" r="2.75" fill="#dd1c77"/>
<circle cx="568.7" cy="54.5" r="2.75" fill="#c994c7"/>
<circle cx="558.3" cy="74.2" r="2.75" fill="#e34a33"/>
<circle cx="559.9" cy="72.6" r="2.75" fill="#fc8d59"/>
<circle cx="561.5" cy="69.7" r="2.75" fill="#b30000"/>
<circle cx="565.2" cy="69.7" r="2.75" fill="#fdbb84"/>
<circle cx="568.8" cy="66.1" r="2.75" fill="#fee8c8"/>
<circle cx="572" cy="66.1" r="2.75" fill="#b30000"/>
<circle cx="579.7" cy="69" r="2.75" fill="#fc8d59"/>
<circle cx="577.2" cy="89.1" r="2.75" fill="#fc8d59"/>
<circle cx="583.7" cy="92.6" r="2.75" fill="#fee8c8"/>
<circle cx="543.2" cy="105.8" r="2.75" fill="#fee8c8"/>
<circle cx="548" cy="103.1" r="2.75" fill="#fc8d59"/>
<circle cx="558.7" cy="100.1" r="2.75" fill="#fdbb84"/>
<circle cx="576.6" cy="98.5" r="2.75" fill="#b30000"/>
<circle cx="586.6" cy="104.2" r="2.75" fill="#e34a33"/>
<circle cx="563.1" cy="114.6" r="2.75" fill="#0c2c84"/>
<circle cx="569.6" cy="108.9" r="2.75" fill="#7fcdbb"/>
<circle cx="573.3" cy="110.5" r="2.75" fill="#2c6fbb"/>
<circle cx="581.8" cy="115.2" r="2.75" fill="#1d91c0"/>
<circle cx="557.4" cy="124.6" r="2.75" fill="#0c2c84"/>
<circle cx="559.6" cy="121.1" r="2.75" fill="#2c6fbb"/>
<circle cx="567.3" cy="119.8" r="2.75" fill="#ffffcc"/>
<circle cx="565.2" cy="118.6" r="2.75" fill="#1d91c0"/>
<circle cx="569.6" cy="121.1" r="2.75" fill="#41b6c4"/>
<circle cx="573.3" cy="123.5" r="2.75" fill="#7fcdbb"/>
<circle cx="561.2" cy="142.8" r="2.75" fill="#0c2c84"/>
<circle cx="568.6" cy="141.4" r="2.75" fill="#ffffcc"/>
<circle cx="566.6" cy="141.2" r="2.75" fill="#41b6c4"/>
<circle cx="569.6" cy="141.2" r="2.75" fill="#1d91c0"/>
<circle cx="598.3" cy="151.1" r="2.75" fill="#2c6fbb"/>
<text x="535.95" y="169.2" font-size="8.6" text-anchor="middle" fill="#1a1a1a">−0.5</text>
<text x="565.5" y="169.2" font-size="8.6" text-anchor="middle" fill="#1a1a1a">0.0</text>
<text x="595.55" y="169.2" font-size="8.6" text-anchor="middle" fill="#1a1a1a">0.5</text>
<text x="625.6" y="169.2" font-size="8.6" text-anchor="middle" fill="#1a1a1a">1.0</text>
<text x="583" y="179.6" font-size="8.2" text-anchor="middle" fill="#1a1a1a">Spearman's <tspan font-style='italic'>r</tspan></text>
<text x="648.3" y="39.8" font-size="8.3" fill="#1a1a1a">Gene</text>
<circle cx="651.5" cy="47.5" r="2.4" fill="#c994c7"/>
<text x="658.3" y="50" font-size="7.1" fill="#222">AVPR1A</text>
<circle cx="651.5" cy="53.85" r="2.4" fill="#dd1c77"/>
<text x="658.3" y="56.35" font-size="7.1" fill="#222">AVPR1B</text>
<circle cx="651.5" cy="60.2" r="2.4" fill="#fee8c8"/>
<text x="658.3" y="62.7" font-size="7.1" fill="#222">CHRM1</text>
<circle cx="651.5" cy="66.55" r="2.4" fill="#fdbb84"/>
<text x="658.3" y="69.05" font-size="7.1" fill="#222">CHRM2</text>
<circle cx="651.5" cy="72.9" r="2.4" fill="#fc8d59"/>
<text x="658.3" y="75.4" font-size="7.1" fill="#222">CHRM3</text>
<circle cx="651.5" cy="79.25" r="2.4" fill="#e34a33"/>
<text x="658.3" y="81.75" font-size="7.1" fill="#222">CHRM4</text>
<circle cx="651.5" cy="85.6" r="2.4" fill="#b30000"/>
<text x="658.3" y="88.1" font-size="7.1" fill="#222">CHRM5</text>
<circle cx="651.5" cy="91.95" r="2.4" fill="#2c6fbb"/>
<text x="658.3" y="94.45" font-size="7.1" fill="#222">COMT</text>
<circle cx="651.5" cy="98.3" r="2.4" fill="#0c2c84"/>
<text x="658.3" y="100.8" font-size="7.1" fill="#222">DAT</text>
<circle cx="651.5" cy="104.65" r="2.4" fill="#ffffcc"/>
<text x="658.3" y="107.15" font-size="7.1" fill="#222">DRD1</text>
<circle cx="651.5" cy="111" r="2.4" fill="#c7e9b4"/>
<text x="658.3" y="113.5" font-size="7.1" fill="#222">DRD2</text>
<circle cx="651.5" cy="117.35" r="2.4" fill="#7fcdbb"/>
<text x="658.3" y="119.85" font-size="7.1" fill="#222">DRD3</text>
<circle cx="651.5" cy="123.7" r="2.4" fill="#41b6c4"/>
<text x="658.3" y="126.2" font-size="7.1" fill="#222">DRD4</text>
<circle cx="651.5" cy="130.05" r="2.4" fill="#1d91c0"/>
<text x="658.3" y="132.55" font-size="7.1" fill="#222">DRD5</text>
<text x="321.6" y="202.9" font-size="13" font-weight="bold" fill="#000">d</text>
<text x="508" y="207" font-size="8.2" text-anchor="middle" fill="#1a1a1a">Differential expression accross tissue types</text>
<rect x="558.35" y="257.08" width="9.1" height="4.52" fill="#feeee6"/>
<rect x="568.35" y="256.01" width="9.1" height="5.59" fill="#fee6dc"/>
<rect x="578.35" y="253.39" width="9.1" height="8.21" fill="#fedccd"/>
<rect x="588.35" y="251.25" width="9.1" height="10.35" fill="#fed4c5"/>
<rect x="598.35" y="250.53" width="9.1" height="11.07" fill="#fed3c4"/>
<rect x="608.35" y="250.06" width="9.1" height="11.54" fill="#fed3c4"/>
<rect x="618.35" y="249.34" width="9.1" height="12.26" fill="#fed0c1"/>
<rect x="628.35" y="248.87" width="9.1" height="12.73" fill="#fecfc0"/>
<rect x="638.35" y="243.04" width="9.1" height="18.56" fill="#fdbeaa"/>
<rect x="648.35" y="209.24" width="9.1" height="52.36" fill="#fd3e23"/>
<text x="652.3" y="208.6" font-size="10" text-anchor="middle" fill="#222">*</text>
<line x1="357.2" y1="206.3" x2="357.2" y2="264" stroke="#333" stroke-width="0.95"/>
<line x1="356.8" y1="263.6" x2="657.5" y2="263.6" stroke="#333" stroke-width="0.95"/>
<line x1="354.6" y1="261.6" x2="357.2" y2="261.6" stroke="#333" stroke-width="0.8"/>
<text x="351.6" y="264.3" font-size="7.9" text-anchor="end" fill="#1a1a1a">0</text>
<line x1="354.6" y1="249.7" x2="357.2" y2="249.7" stroke="#333" stroke-width="0.8"/>
<text x="351.6" y="252.4" font-size="7.9" text-anchor="end" fill="#1a1a1a">1</text>
<line x1="354.6" y1="237.8" x2="357.2" y2="237.8" stroke="#333" stroke-width="0.8"/>
<text x="351.6" y="240.5" font-size="7.9" text-anchor="end" fill="#1a1a1a">2</text>
<line x1="354.6" y1="225.9" x2="357.2" y2="225.9" stroke="#333" stroke-width="0.8"/>
<text x="351.6" y="228.6" font-size="7.9" text-anchor="end" fill="#1a1a1a">3</text>
<line x1="354.6" y1="214" x2="357.2" y2="214" stroke="#333" stroke-width="0.8"/>
<text x="351.6" y="216.7" font-size="7.9" text-anchor="end" fill="#1a1a1a">4</text>
<line x1="362.9" y1="263.6" x2="362.9" y2="265.9" stroke="#333" stroke-width="0.9"/>
<text x="365.1" y="268" font-size="8.4" text-anchor="end" fill="#1a1a1a" transform="rotate(-90 365.1 268)">Adipose tissue</text>
<line x1="372.9" y1="263.6" x2="372.9" y2="265.9" stroke="#333" stroke-width="0.9"/>
<text x="375.1" y="268" font-size="8.4" text-anchor="end" fill="#1a1a1a" transform="rotate(-90 375.1 268)">Adrenal gland</text>
<line x1="382.9" y1="263.6" x2="382.9" y2="265.9" stroke="#333" stroke-width="0.9"/>
<text x="385.1" y="268" font-size="8.4" text-anchor="end" fill="#1a1a1a" transform="rotate(-90 385.1 268)">Bladder</text>
<line x1="392.9" y1="263.6" x2="392.9" y2="265.9" stroke="#333" stroke-width="0.9"/>
<text x="395.1" y="268" font-size="8.4" text-anchor="end" fill="#1a1a1a" transform="rotate(-90 395.1 268)">Blood vessel</text>
<line x1="402.9" y1="263.6" x2="402.9" y2="265.9" stroke="#333" stroke-width="0.9"/>
<text x="405.1" y="268" font-size="8.4" text-anchor="end" fill="#1a1a1a" transform="rotate(-90 405.1 268)">Cervix uteri</text>
<line x1="412.9" y1="263.6" x2="412.9" y2="265.9" stroke="#333" stroke-width="0.9"/>
<text x="415.1" y="268" font-size="8.4" text-anchor="end" fill="#1a1a1a" transform="rotate(-90 415.1 268)">Colon</text>
<line x1="422.9" y1="263.6" x2="422.9" y2="265.9" stroke="#333" stroke-width="0.9"/>
<text x="425.1" y="268" font-size="8.4" text-anchor="end" fill="#1a1a1a" transform="rotate(-90 425.1 268)">Esophagus</text>
<line x1="432.9" y1="263.6" x2="432.9" y2="265.9" stroke="#333" stroke-width="0.9"/>
<text x="435.1" y="268" font-size="8.4" text-anchor="end" fill="#1a1a1a" transform="rotate(-90 435.1 268)">Fallopian tube</text>
<line x1="442.9" y1="263.6" x2="442.9" y2="265.9" stroke="#333" stroke-width="0.9"/>
<text x="445.1" y="268" font-size="8.4" text-anchor="end" fill="#1a1a1a" transform="rotate(-90 445.1 268)">Heart</text>
<line x1="452.9" y1="263.6" x2="452.9" y2="265.9" stroke="#333" stroke-width="0.9"/>
<text x="455.1" y="268" font-size="8.4" text-anchor="end" fill="#1a1a1a" transform="rotate(-90 455.1 268)">Kidney</text>
<line x1="462.9" y1="263.6" x2="462.9" y2="265.9" stroke="#333" stroke-width="0.9"/>
<text x="465.1" y="268" font-size="8.4" text-anchor="end" fill="#1a1a1a" transform="rotate(-90 465.1 268)">Liver</text>
<line x1="472.9" y1="263.6" x2="472.9" y2="265.9" stroke="#333" stroke-width="0.9"/>
<text x="475.1" y="268" font-size="8.4" text-anchor="end" fill="#1a1a1a" transform="rotate(-90 475.1 268)">Muscle</text>
<line x1="482.9" y1="263.6" x2="482.9" y2="265.9" stroke="#333" stroke-width="0.9"/>
<text x="485.1" y="268" font-size="8.4" text-anchor="end" fill="#1a1a1a" transform="rotate(-90 485.1 268)">Nerve</text>
<line x1="492.9" y1="263.6" x2="492.9" y2="265.9" stroke="#333" stroke-width="0.9"/>
<text x="495.1" y="268" font-size="8.4" text-anchor="end" fill="#1a1a1a" transform="rotate(-90 495.1 268)">Ovary</text>
<line x1="502.9" y1="263.6" x2="502.9" y2="265.9" stroke="#333" stroke-width="0.9"/>
<text x="505.1" y="268" font-size="8.4" text-anchor="end" fill="#1a1a1a" transform="rotate(-90 505.1 268)">Pancreas</text>
<line x1="512.9" y1="263.6" x2="512.9" y2="265.9" stroke="#333" stroke-width="0.9"/>
<text x="515.1" y="268" font-size="8.4" text-anchor="end" fill="#1a1a1a" transform="rotate(-90 515.1 268)">Skin</text>
<line x1="522.9" y1="263.6" x2="522.9" y2="265.9" stroke="#333" stroke-width="0.9"/>
<text x="525.1" y="268" font-size="8.4" text-anchor="end" fill="#1a1a1a" transform="rotate(-90 525.1 268)">Stomach</text>
<line x1="532.9" y1="263.6" x2="532.9" y2="265.9" stroke="#333" stroke-width="0.9"/>
<text x="535.1" y="268" font-size="8.4" text-anchor="end" fill="#1a1a1a" transform="rotate(-90 535.1 268)">Thyroid</text>
<line x1="542.9" y1="263.6" x2="542.9" y2="265.9" stroke="#333" stroke-width="0.9"/>
<text x="545.1" y="268" font-size="8.4" text-anchor="end" fill="#1a1a1a" transform="rotate(-90 545.1 268)">Uterus</text>
<line x1="552.9" y1="263.6" x2="552.9" y2="265.9" stroke="#333" stroke-width="0.9"/>
<text x="555.1" y="268" font-size="8.4" text-anchor="end" fill="#1a1a1a" transform="rotate(-90 555.1 268)">Vagina</text>
<line x1="562.9" y1="263.6" x2="562.9" y2="265.9" stroke="#333" stroke-width="0.9"/>
<text x="565.1" y="268" font-size="8.4" text-anchor="end" fill="#1a1a1a" transform="rotate(-90 565.1 268)">Testis</text>
<line x1="572.9" y1="263.6" x2="572.9" y2="265.9" stroke="#333" stroke-width="0.9"/>
<text x="575.1" y="268" font-size="8.4" text-anchor="end" fill="#1a1a1a" transform="rotate(-90 575.1 268)">Lung</text>
<line x1="582.9" y1="263.6" x2="582.9" y2="265.9" stroke="#333" stroke-width="0.9"/>
<text x="585.1" y="268" font-size="8.4" text-anchor="end" fill="#1a1a1a" transform="rotate(-90 585.1 268)">Prostate</text>
<line x1="592.9" y1="263.6" x2="592.9" y2="265.9" stroke="#333" stroke-width="0.9"/>
<text x="595.1" y="268" font-size="8.4" text-anchor="end" fill="#1a1a1a" transform="rotate(-90 595.1 268)">Blood</text>
<line x1="602.9" y1="263.6" x2="602.9" y2="265.9" stroke="#333" stroke-width="0.9"/>
<text x="605.1" y="268" font-size="8.4" text-anchor="end" fill="#1a1a1a" transform="rotate(-90 605.1 268)">Pituitary</text>
<line x1="612.9" y1="263.6" x2="612.9" y2="265.9" stroke="#333" stroke-width="0.9"/>
<text x="615.1" y="268" font-size="8.4" text-anchor="end" fill="#1a1a1a" transform="rotate(-90 615.1 268)">Breast</text>
<line x1="622.9" y1="263.6" x2="622.9" y2="265.9" stroke="#333" stroke-width="0.9"/>
<text x="625.1" y="268" font-size="8.4" text-anchor="end" fill="#1a1a1a" transform="rotate(-90 625.1 268)">Spleen</text>
<line x1="632.9" y1="263.6" x2="632.9" y2="265.9" stroke="#333" stroke-width="0.9"/>
<text x="635.1" y="268" font-size="8.4" text-anchor="end" fill="#1a1a1a" transform="rotate(-90 635.1 268)">Salivary gland</text>
<line x1="642.9" y1="263.6" x2="642.9" y2="265.9" stroke="#333" stroke-width="0.9"/>
<text x="645.1" y="268" font-size="8.4" text-anchor="end" fill="#1a1a1a" transform="rotate(-90 645.1 268)">Small intestine</text>
<line x1="652.9" y1="263.6" x2="652.9" y2="265.9" stroke="#333" stroke-width="0.9"/>
<text x="655.1" y="268" font-size="8.4" text-anchor="end" fill="#1a1a1a" transform="rotate(-90 655.1 268)">Brain</text>
<text x="340.8" y="234.8" font-size="8.3" text-anchor="middle" fill="#1a1a1a" transform="rotate(-90 340.8 234.8)">−log 10 <tspan font-style="italic">p</tspan>-value</text>
<text x="508" y="331.2" font-size="8.5" text-anchor="middle" fill="#1a1a1a">Body tissue</text>
<defs><linearGradient id="cd" x1="0" y1="1" x2="0" y2="0"><stop offset="0" stop-color="#fff1ec"/><stop offset="1" stop-color="#ff0000"/></linearGradient></defs>
<rect x="667.8" y="219.8" width="8.7" height="32.2" fill="url(#cd)"/>
<line x1="667.8" y1="248.3" x2="669.6" y2="248.3" stroke="#fff" stroke-width="0.6"/>
<line x1="674.7" y1="248.3" x2="676.5" y2="248.3" stroke="#fff" stroke-width="0.6"/>
<line x1="667.8" y1="241.4" x2="669.6" y2="241.4" stroke="#fff" stroke-width="0.6"/>
<line x1="674.7" y1="241.4" x2="676.5" y2="241.4" stroke="#fff" stroke-width="0.6"/>
<line x1="667.8" y1="234.5" x2="669.6" y2="234.5" stroke="#fff" stroke-width="0.6"/>
<line x1="674.7" y1="234.5" x2="676.5" y2="234.5" stroke="#fff" stroke-width="0.6"/>
<line x1="667.8" y1="227.6" x2="669.6" y2="227.6" stroke="#fff" stroke-width="0.6"/>
<line x1="674.7" y1="227.6" x2="676.5" y2="227.6" stroke="#fff" stroke-width="0.6"/>
<line x1="667.8" y1="220.7" x2="669.6" y2="220.7" stroke="#fff" stroke-width="0.6"/>
<line x1="674.7" y1="220.7" x2="676.5" y2="220.7" stroke="#fff" stroke-width="0.6"/>
<text x="678.2" y="251.2" font-size="8.2" fill="#222">1</text>
<text x="678.2" y="237.4" font-size="8.2" fill="#222">3</text>
<text x="678.2" y="223.6" font-size="8.2" fill="#222">5</text>
</svg>
</body></html>
